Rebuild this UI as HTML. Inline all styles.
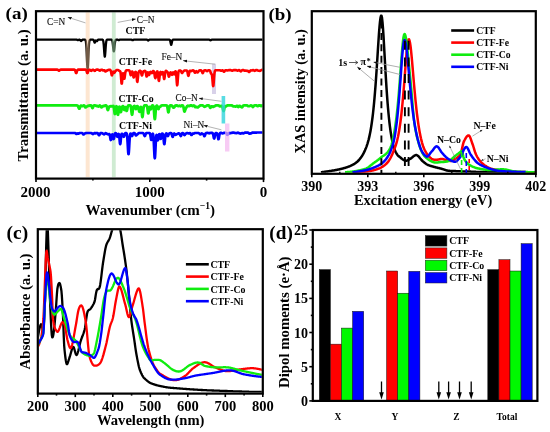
<!DOCTYPE html><html><head><meta charset="utf-8"><style>html,body{margin:0;padding:0;background:#fff;width:550px;height:432px;overflow:hidden}svg{display:block;will-change:transform}</style></head><body>
<svg width="550" height="432" viewBox="0 0 550 432" style="font-family:'Liberation Serif',serif">
<rect width="550" height="432" fill="#fff"/>
<defs><clipPath id="ca"><rect x="37" y="12.2" width="225.5" height="165.4"/></clipPath><clipPath id="cb"><rect x="312.8" y="12.2" width="222" height="160.6"/></clipPath><clipPath id="cc"><rect x="38.8" y="230.2" width="223" height="162.4"/></clipPath><marker id="ah" viewBox="0 0 6 6" refX="5" refY="3" markerWidth="5" markerHeight="5" orient="auto"><path d="M0,0.8 L6,3 L0,5.2 z" fill="#222"/></marker><marker id="ah2" viewBox="0 0 8 6" refX="7" refY="3" markerWidth="4.2" markerHeight="3.2" markerUnits="userSpaceOnUse" orient="auto"><path d="M0,0.3 L8,3 L0,5.7 z" fill="#111"/></marker></defs>
<path d="M37.0,39.6 L37.2,39.6 L37.4,39.6 L37.6,39.6 L37.8,39.6 L38.0,39.6 L38.2,39.6 L38.4,39.6 L38.6,39.6 L38.8,39.6 L39.0,39.6 L39.2,39.6 L39.4,39.6 L39.6,39.6 L39.8,39.6 L40.0,39.6 L40.2,39.6 L40.4,39.6 L40.6,39.6 L40.8,39.6 L41.0,39.6 L41.2,39.6 L41.4,39.6 L41.6,39.6 L41.8,39.6 L42.0,39.6 L42.2,39.6 L42.4,39.6 L42.6,39.6 L42.8,39.6 L43.0,39.6 L43.2,39.6 L43.4,39.6 L43.6,39.6 L43.8,39.6 L44.0,39.6 L44.2,39.6 L44.4,39.6 L44.6,39.6 L44.8,39.6 L45.0,39.6 L45.2,39.6 L45.4,39.6 L45.6,39.6 L45.8,39.6 L46.0,39.6 L46.2,39.6 L46.4,39.6 L46.6,39.6 L46.8,39.6 L47.0,39.6 L47.2,39.6 L47.4,39.6 L47.6,39.6 L47.8,39.6 L48.0,39.6 L48.2,39.6 L48.4,39.6 L48.6,39.6 L48.8,39.6 L49.0,39.6 L49.2,39.6 L49.4,39.6 L49.6,39.6 L49.8,39.6 L50.0,39.6 L50.2,39.6 L50.4,39.6 L50.6,39.6 L50.8,39.6 L51.0,39.6 L51.2,39.6 L51.4,39.6 L51.6,39.6 L51.8,39.6 L52.0,39.6 L52.2,39.6 L52.4,39.6 L52.6,39.6 L52.8,39.6 L53.0,39.6 L53.2,39.6 L53.4,39.6 L53.6,39.6 L53.8,39.6 L54.0,39.6 L54.2,39.6 L54.4,39.6 L54.6,39.6 L54.8,39.6 L55.0,39.6 L55.2,39.6 L55.4,39.6 L55.6,39.6 L55.8,39.6 L56.0,39.6 L56.2,39.6 L56.4,39.6 L56.6,39.6 L56.8,39.6 L57.0,39.6 L57.2,39.6 L57.4,39.6 L57.6,39.6 L57.8,39.6 L58.0,39.6 L58.2,39.6 L58.4,39.6 L58.6,39.6 L58.8,39.6 L59.0,39.6 L59.2,39.6 L59.4,39.6 L59.6,39.6 L59.8,39.6 L60.0,39.6 L60.2,39.6 L60.4,39.6 L60.6,39.6 L60.8,39.6 L61.0,39.6 L61.2,39.6 L61.4,39.6 L61.6,39.6 L61.8,39.6 L62.0,39.6 L62.2,39.6 L62.4,39.6 L62.6,39.6 L62.8,39.6 L63.0,39.6 L63.2,39.6 L63.4,39.6 L63.6,39.6 L63.8,39.6 L64.0,39.6 L64.2,39.6 L64.4,39.6 L64.6,39.6 L64.8,39.6 L65.0,39.6 L65.2,39.6 L65.4,39.6 L65.6,39.6 L65.8,39.6 L66.0,39.6 L66.2,39.6 L66.4,39.6 L66.6,39.6 L66.8,39.6 L67.0,39.6 L67.2,39.6 L67.4,39.6 L67.6,39.6 L67.8,39.6 L68.0,39.6 L68.2,39.6 L68.4,39.6 L68.6,39.6 L68.8,39.6 L69.0,39.6 L69.2,39.6 L69.4,39.6 L69.6,39.6 L69.8,39.6 L70.0,39.6 L70.2,39.6 L70.4,39.6 L70.6,39.6 L70.8,39.6 L71.0,39.6 L71.2,39.6 L71.4,39.6 L71.6,39.6 L71.8,39.6 L72.0,39.6 L72.2,39.6 L72.4,39.6 L72.6,39.6 L72.8,39.6 L73.0,39.6 L73.2,39.6 L73.4,39.6 L73.6,39.6 L73.8,39.6 L74.0,39.6 L74.2,39.6 L74.4,39.6 L74.6,39.6 L74.8,39.6 L75.0,39.6 L75.2,39.6 L75.4,39.6 L75.6,39.6 L75.8,39.6 L76.0,39.6 L76.2,39.6 L76.4,39.6 L76.6,39.6 L76.8,39.7 L77.0,39.8 L77.2,39.9 L77.4,40.0 L77.6,40.0 L77.8,40.1 L78.0,40.1 L78.2,40.0 L78.4,40.0 L78.6,39.9 L78.8,39.8 L79.0,39.7 L79.2,39.7 L79.4,39.6 L79.6,39.7 L79.8,39.7 L80.0,39.9 L80.2,40.1 L80.4,40.3 L80.6,40.6 L80.8,40.8 L81.0,41.0 L81.2,41.0 L81.4,40.8 L81.6,40.6 L81.8,40.3 L82.0,40.1 L82.2,39.9 L82.4,39.7 L82.6,39.7 L82.8,39.6 L83.0,39.6 L83.2,39.6 L83.4,39.6 L83.6,39.6 L83.8,39.6 L84.0,39.6 L84.2,39.6 L84.4,39.6 L84.6,39.6 L84.8,39.6 L85.0,39.7 L85.2,39.8 L85.4,40.0 L85.6,40.4 L85.8,41.2 L86.0,42.6 L86.2,44.7 L86.4,47.7 L86.6,51.6 L86.8,56.1 L87.0,60.8 L87.2,64.9 L87.4,67.8 L87.6,68.8 L87.8,67.8 L88.0,64.9 L88.2,60.8 L88.4,56.1 L88.6,51.6 L88.8,47.7 L89.0,44.7 L89.2,42.6 L89.4,41.2 L89.6,40.4 L89.8,40.0 L90.0,39.8 L90.2,39.7 L90.4,39.6 L90.6,39.6 L90.8,39.6 L91.0,39.6 L91.2,39.6 L91.4,39.6 L91.6,39.6 L91.8,39.6 L92.0,39.6 L92.2,39.6 L92.4,39.6 L92.6,39.6 L92.8,39.6 L93.0,39.7 L93.2,39.7 L93.4,39.9 L93.6,40.1 L93.8,40.5 L94.0,41.1 L94.2,41.6 L94.4,42.2 L94.6,42.5 L94.8,42.5 L95.0,42.2 L95.2,41.7 L95.4,41.2 L95.6,40.8 L95.8,40.5 L96.0,40.5 L96.2,40.7 L96.4,40.9 L96.6,41.1 L96.8,41.2 L97.0,41.1 L97.2,40.9 L97.4,40.6 L97.6,40.3 L97.8,40.0 L98.0,39.8 L98.2,39.7 L98.4,39.6 L98.6,39.6 L98.8,39.6 L99.0,39.6 L99.2,39.6 L99.4,39.6 L99.6,39.6 L99.8,39.6 L100.0,39.6 L100.2,39.6 L100.4,39.6 L100.6,39.6 L100.8,39.6 L101.0,39.6 L101.2,39.6 L101.4,39.6 L101.6,39.6 L101.8,39.6 L102.0,39.6 L102.2,39.6 L102.4,39.6 L102.6,39.7 L102.8,39.9 L103.0,40.2 L103.2,40.8 L103.4,41.9 L103.6,43.5 L103.8,45.7 L104.0,48.4 L104.2,51.4 L104.4,54.0 L104.6,55.9 L104.8,56.6 L105.0,55.9 L105.2,54.0 L105.4,51.4 L105.6,48.4 L105.8,45.7 L106.0,43.5 L106.2,41.9 L106.4,40.8 L106.6,40.2 L106.8,39.9 L107.0,39.7 L107.2,39.6 L107.4,39.6 L107.6,39.6 L107.8,39.6 L108.0,39.6 L108.2,39.6 L108.4,39.6 L108.6,39.6 L108.8,39.6 L109.0,39.6 L109.2,39.6 L109.4,39.6 L109.6,39.6 L109.8,39.6 L110.0,39.6 L110.2,39.6 L110.4,39.6 L110.6,39.6 L110.8,39.6 L111.0,39.6 L111.2,39.6 L111.4,39.6 L111.6,39.7 L111.8,39.8 L112.0,40.0 L112.2,40.5 L112.4,41.2 L112.6,42.3 L112.8,43.9 L113.0,45.7 L113.2,47.8 L113.4,49.6 L113.6,50.9 L113.8,51.4 L114.0,50.9 L114.2,49.6 L114.4,47.8 L114.6,45.7 L114.8,43.9 L115.0,42.3 L115.2,41.2 L115.4,40.5 L115.6,40.0 L115.8,39.8 L116.0,39.7 L116.2,39.6 L116.4,39.6 L116.6,39.6 L116.8,39.6 L117.0,39.6 L117.2,39.6 L117.4,39.6 L117.6,39.7 L117.8,39.8 L118.0,39.9 L118.2,40.0 L118.4,40.0 L118.6,40.1 L118.8,40.1 L119.0,40.0 L119.2,40.0 L119.4,39.9 L119.6,39.8 L119.8,39.7 L120.0,39.6 L120.2,39.6 L120.4,39.6 L120.6,39.6 L120.8,39.6 L121.0,39.6 L121.2,39.6 L121.4,39.6 L121.6,39.6 L121.8,39.6 L122.0,39.6 L122.2,39.6 L122.4,39.6 L122.6,39.6 L122.8,39.6 L123.0,39.6 L123.2,39.6 L123.4,39.6 L123.6,39.6 L123.8,39.6 L124.0,39.6 L124.2,39.6 L124.4,39.6 L124.6,39.6 L124.8,39.6 L125.0,39.6 L125.2,39.6 L125.4,39.6 L125.6,39.6 L125.8,39.6 L126.0,39.6 L126.2,39.6 L126.4,39.6 L126.6,39.6 L126.8,39.6 L127.0,39.6 L127.2,39.6 L127.4,39.6 L127.6,39.6 L127.8,39.6 L128.0,39.6 L128.2,39.6 L128.4,39.6 L128.6,39.6 L128.8,39.6 L129.0,39.6 L129.2,39.6 L129.4,39.6 L129.6,39.6 L129.8,39.6 L130.0,39.6 L130.2,39.6 L130.4,39.6 L130.6,39.6 L130.8,39.6 L131.0,39.6 L131.2,39.6 L131.4,39.7 L131.6,39.7 L131.8,39.8 L132.0,40.0 L132.2,40.1 L132.4,40.2 L132.6,40.2 L132.8,40.2 L133.0,40.1 L133.2,40.0 L133.4,39.8 L133.6,39.7 L133.8,39.7 L134.0,39.6 L134.2,39.6 L134.4,39.6 L134.6,39.6 L134.8,39.6 L135.0,39.6 L135.2,39.6 L135.4,39.6 L135.6,39.6 L135.8,39.6 L136.0,39.6 L136.2,39.6 L136.4,39.6 L136.6,39.6 L136.8,39.6 L137.0,39.6 L137.2,39.6 L137.4,39.6 L137.6,39.6 L137.8,39.6 L138.0,39.6 L138.2,39.6 L138.4,39.6 L138.6,39.6 L138.8,39.6 L139.0,39.6 L139.2,39.6 L139.4,39.6 L139.6,39.6 L139.8,39.6 L140.0,39.6 L140.2,39.6 L140.4,39.6 L140.6,39.6 L140.8,39.6 L141.0,39.6 L141.2,39.6 L141.4,39.6 L141.6,39.6 L141.8,39.6 L142.0,39.6 L142.2,39.6 L142.4,39.6 L142.6,39.6 L142.8,39.6 L143.0,39.6 L143.2,39.6 L143.4,39.6 L143.6,39.6 L143.8,39.6 L144.0,39.6 L144.2,39.6 L144.4,39.6 L144.6,39.6 L144.8,39.6 L145.0,39.6 L145.2,39.6 L145.4,39.6 L145.6,39.6 L145.8,39.6 L146.0,39.6 L146.2,39.6 L146.4,39.6 L146.6,39.6 L146.8,39.7 L147.0,39.7 L147.2,39.8 L147.4,40.0 L147.6,40.1 L147.8,40.3 L148.0,40.5 L148.2,40.5 L148.4,40.5 L148.6,40.3 L148.8,40.1 L149.0,40.0 L149.2,39.8 L149.4,39.7 L149.6,39.7 L149.8,39.6 L150.0,39.6 L150.2,39.6 L150.4,39.6 L150.6,39.6 L150.8,39.6 L151.0,39.6 L151.2,39.6 L151.4,39.6 L151.6,39.6 L151.8,39.6 L152.0,39.6 L152.2,39.6 L152.4,39.6 L152.6,39.6 L152.8,39.6 L153.0,39.6 L153.2,39.6 L153.4,39.6 L153.6,39.6 L153.8,39.6 L154.0,39.6 L154.2,39.6 L154.4,39.6 L154.6,39.6 L154.8,39.6 L155.0,39.6 L155.2,39.6 L155.4,39.6 L155.6,39.6 L155.8,39.6 L156.0,39.6 L156.2,39.6 L156.4,39.6 L156.6,39.6 L156.8,39.6 L157.0,39.6 L157.2,39.6 L157.4,39.6 L157.6,39.6 L157.8,39.6 L158.0,39.6 L158.2,39.6 L158.4,39.6 L158.6,39.6 L158.8,39.6 L159.0,39.6 L159.2,39.6 L159.4,39.6 L159.6,39.6 L159.8,39.6 L160.0,39.6 L160.2,39.6 L160.4,39.6 L160.6,39.6 L160.8,39.6 L161.0,39.6 L161.2,39.6 L161.4,39.6 L161.6,39.6 L161.8,39.6 L162.0,39.6 L162.2,39.6 L162.4,39.6 L162.6,39.6 L162.8,39.6 L163.0,39.6 L163.2,39.6 L163.4,39.6 L163.6,39.6 L163.8,39.6 L164.0,39.6 L164.2,39.6 L164.4,39.6 L164.6,39.6 L164.8,39.6 L165.0,39.6 L165.2,39.6 L165.4,39.6 L165.6,39.6 L165.8,39.6 L166.0,39.6 L166.2,39.6 L166.4,39.6 L166.6,39.6 L166.8,39.6 L167.0,39.6 L167.2,39.6 L167.4,39.6 L167.6,39.6 L167.8,39.6 L168.0,39.6 L168.2,39.6 L168.4,39.6 L168.6,39.6 L168.8,39.6 L169.0,39.6 L169.2,39.6 L169.4,39.7 L169.6,39.7 L169.8,39.9 L170.0,40.3 L170.2,40.9 L170.4,41.7 L170.6,42.8 L170.8,43.8 L171.0,44.5 L171.2,44.8 L171.4,44.5 L171.6,43.8 L171.8,42.8 L172.0,41.7 L172.2,40.9 L172.4,40.3 L172.6,39.9 L172.8,39.7 L173.0,39.7 L173.2,39.6 L173.4,39.6 L173.6,39.6 L173.8,39.6 L174.0,39.6 L174.2,39.6 L174.4,39.6 L174.6,39.6 L174.8,39.6 L175.0,39.6 L175.2,39.6 L175.4,39.6 L175.6,39.6 L175.8,39.6 L176.0,39.6 L176.2,39.6 L176.4,39.6 L176.6,39.6 L176.8,39.6 L177.0,39.6 L177.2,39.6 L177.4,39.6 L177.6,39.6 L177.8,39.6 L178.0,39.6 L178.2,39.6 L178.4,39.6 L178.6,39.6 L178.8,39.6 L179.0,39.6 L179.2,39.6 L179.4,39.6 L179.6,39.6 L179.8,39.6 L180.0,39.6 L180.2,39.6 L180.4,39.6 L180.6,39.6 L180.8,39.6 L181.0,39.6 L181.2,39.6 L181.4,39.6 L181.6,39.6 L181.8,39.6 L182.0,39.6 L182.2,39.6 L182.4,39.6 L182.6,39.6 L182.8,39.6 L183.0,39.6 L183.2,39.6 L183.4,39.6 L183.6,39.6 L183.8,39.6 L184.0,39.6 L184.2,39.6 L184.4,39.6 L184.6,39.6 L184.8,39.6 L185.0,39.6 L185.2,39.6 L185.4,39.6 L185.6,39.6 L185.8,39.6 L186.0,39.6 L186.2,39.6 L186.4,39.6 L186.6,39.6 L186.8,39.6 L187.0,39.6 L187.2,39.6 L187.4,39.6 L187.6,39.6 L187.8,39.6 L188.0,39.6 L188.2,39.6 L188.4,39.6 L188.6,39.6 L188.8,39.6 L189.0,39.6 L189.2,39.6 L189.4,39.6 L189.6,39.6 L189.8,39.6 L190.0,39.6 L190.2,39.6 L190.4,39.6 L190.6,39.6 L190.8,39.6 L191.0,39.6 L191.2,39.6 L191.4,39.6 L191.6,39.6 L191.8,39.6 L192.0,39.6 L192.2,39.6 L192.4,39.6 L192.6,39.6 L192.8,39.6 L193.0,39.6 L193.2,39.6 L193.4,39.6 L193.6,39.6 L193.8,39.6 L194.0,39.6 L194.2,39.6 L194.4,39.6 L194.6,39.6 L194.8,39.6 L195.0,39.6 L195.2,39.6 L195.4,39.6 L195.6,39.6 L195.8,39.6 L196.0,39.6 L196.2,39.6 L196.4,39.6 L196.6,39.6 L196.8,39.6 L197.0,39.6 L197.2,39.6 L197.4,39.6 L197.6,39.6 L197.8,39.6 L198.0,39.6 L198.2,39.6 L198.4,39.6 L198.6,39.6 L198.8,39.6 L199.0,39.6 L199.2,39.6 L199.4,39.6 L199.6,39.6 L199.8,39.6 L200.0,39.6 L200.2,39.6 L200.4,39.6 L200.6,39.6 L200.8,39.6 L201.0,39.6 L201.2,39.6 L201.4,39.6 L201.6,39.6 L201.8,39.6 L202.0,39.6 L202.2,39.6 L202.4,39.6 L202.6,39.6 L202.8,39.6 L203.0,39.6 L203.2,39.6 L203.4,39.6 L203.6,39.6 L203.8,39.6 L204.0,39.6 L204.2,39.6 L204.4,39.6 L204.6,39.6 L204.8,39.6 L205.0,39.6 L205.2,39.6 L205.4,39.6 L205.6,39.6 L205.8,39.6 L206.0,39.6 L206.2,39.6 L206.4,39.6 L206.6,39.6 L206.8,39.6 L207.0,39.6 L207.2,39.6 L207.4,39.6 L207.6,39.6 L207.8,39.6 L208.0,39.6 L208.2,39.6 L208.4,39.6 L208.6,39.6 L208.8,39.6 L209.0,39.6 L209.2,39.7 L209.4,39.7 L209.6,39.8 L209.8,40.0 L210.0,40.1 L210.2,40.2 L210.4,40.3 L210.6,40.3 L210.8,40.2 L211.0,40.1 L211.2,40.0 L211.4,39.8 L211.6,39.7 L211.8,39.7 L212.0,39.6 L212.2,39.6 L212.4,39.6 L212.6,39.6 L212.8,39.6 L213.0,39.6 L213.2,39.6 L213.4,39.6 L213.6,39.6 L213.8,39.6 L214.0,39.6 L214.2,39.6 L214.4,39.6 L214.6,39.6 L214.8,39.6 L215.0,39.6 L215.2,39.6 L215.4,39.6 L215.6,39.6 L215.8,39.6 L216.0,39.6 L216.2,39.6 L216.4,39.6 L216.6,39.6 L216.8,39.6 L217.0,39.6 L217.2,39.6 L217.4,39.6 L217.6,39.6 L217.8,39.6 L218.0,39.6 L218.2,39.6 L218.4,39.6 L218.6,39.6 L218.8,39.6 L219.0,39.6 L219.2,39.6 L219.4,39.6 L219.6,39.6 L219.8,39.6 L220.0,39.6 L220.2,39.6 L220.4,39.6 L220.6,39.6 L220.8,39.6 L221.0,39.6 L221.2,39.6 L221.4,39.6 L221.6,39.6 L221.8,39.6 L222.0,39.6 L222.2,39.6 L222.4,39.6 L222.6,39.6 L222.8,39.6 L223.0,39.6 L223.2,39.6 L223.4,39.6 L223.6,39.6 L223.8,39.6 L224.0,39.6 L224.2,39.6 L224.4,39.6 L224.6,39.6 L224.8,39.6 L225.0,39.6 L225.2,39.6 L225.4,39.6 L225.6,39.6 L225.8,39.6 L226.0,39.6 L226.2,39.6 L226.4,39.6 L226.6,39.6 L226.8,39.6 L227.0,39.6 L227.2,39.6 L227.4,39.6 L227.6,39.6 L227.8,39.6 L228.0,39.6 L228.2,39.6 L228.4,39.6 L228.6,39.6 L228.8,39.6 L229.0,39.6 L229.2,39.6 L229.4,39.6 L229.6,39.6 L229.8,39.6 L230.0,39.6 L230.2,39.6 L230.4,39.6 L230.6,39.6 L230.8,39.6 L231.0,39.6 L231.2,39.6 L231.4,39.6 L231.6,39.6 L231.8,39.6 L232.0,39.6 L232.2,39.6 L232.4,39.6 L232.6,39.6 L232.8,39.6 L233.0,39.6 L233.2,39.6 L233.4,39.6 L233.6,39.6 L233.8,39.6 L234.0,39.6 L234.2,39.6 L234.4,39.6 L234.6,39.6 L234.8,39.6 L235.0,39.6 L235.2,39.6 L235.4,39.6 L235.6,39.6 L235.8,39.6 L236.0,39.6 L236.2,39.6 L236.4,39.6 L236.6,39.6 L236.8,39.6 L237.0,39.6 L237.2,39.6 L237.4,39.6 L237.6,39.6 L237.8,39.6 L238.0,39.6 L238.2,39.6 L238.4,39.6 L238.6,39.6 L238.8,39.6 L239.0,39.6 L239.2,39.6 L239.4,39.6 L239.6,39.6 L239.8,39.6 L240.0,39.6 L240.2,39.6 L240.4,39.6 L240.6,39.6 L240.8,39.6 L241.0,39.6 L241.2,39.6 L241.4,39.6 L241.6,39.6 L241.8,39.6 L242.0,39.6 L242.2,39.6 L242.4,39.6 L242.6,39.6 L242.8,39.6 L243.0,39.6 L243.2,39.6 L243.4,39.6 L243.6,39.6 L243.8,39.6 L244.0,39.6 L244.2,39.6 L244.4,39.6 L244.6,39.6 L244.8,39.6 L245.0,39.6 L245.2,39.6 L245.4,39.6 L245.6,39.6 L245.8,39.6 L246.0,39.6 L246.2,39.6 L246.4,39.6 L246.6,39.6 L246.8,39.6 L247.0,39.6 L247.2,39.6 L247.4,39.6 L247.6,39.6 L247.8,39.6 L248.0,39.6 L248.2,39.6 L248.4,39.6 L248.6,39.6 L248.8,39.6 L249.0,39.6 L249.2,39.6 L249.4,39.6 L249.6,39.6 L249.8,39.6 L250.0,39.6 L250.2,39.6 L250.4,39.6 L250.6,39.6 L250.8,39.6 L251.0,39.6 L251.2,39.6 L251.4,39.6 L251.6,39.6 L251.8,39.6 L252.0,39.6 L252.2,39.6 L252.4,39.6 L252.6,39.6 L252.8,39.6 L253.0,39.6 L253.2,39.6 L253.4,39.6 L253.6,39.6 L253.8,39.6 L254.0,39.6 L254.2,39.6 L254.4,39.6 L254.6,39.6 L254.8,39.6 L255.0,39.6 L255.2,39.6 L255.4,39.6 L255.6,39.6 L255.8,39.6 L256.0,39.6 L256.2,39.6 L256.4,39.6 L256.6,39.6 L256.8,39.6 L257.0,39.6 L257.2,39.6 L257.4,39.6 L257.6,39.6 L257.8,39.6 L258.0,39.6 L258.2,39.6 L258.4,39.6 L258.6,39.6 L258.8,39.6 L259.0,39.6 L259.2,39.6 L259.4,39.6 L259.6,39.6 L259.8,39.6 L260.0,39.6 L260.2,39.6 L260.4,39.6 L260.6,39.6 L260.8,39.6 L261.0,39.6 L261.2,39.6 L261.4,39.6 L261.6,39.6 L261.8,39.6 L262.0,39.6 L262.2,39.6 L262.4,39.6 L262.6,39.6 L262.8,39.6" fill="none" stroke="#000" stroke-width="2.3" stroke-linejoin="round" clip-path="url(#ca)"/>
<rect x="85.7" y="12.3" width="4" height="164.8" fill="#fbc89a" opacity="0.45"/>
<rect x="111.9" y="12.3" width="3.8" height="164.8" fill="#9fd8a6" opacity="0.5"/>
<rect x="212" y="63.7" width="4" height="30.3" fill="#c8bde0" opacity="0.7"/>
<g clip-path="url(#ca)">
<path d="M37.0,69.6 L37.2,69.6 L37.4,69.6 L37.6,69.6 L37.8,69.6 L38.0,69.6 L38.2,69.6 L38.4,69.6 L38.6,69.6 L38.8,69.6 L39.0,69.6 L39.2,69.6 L39.4,69.6 L39.6,69.6 L39.8,69.6 L40.0,69.6 L40.2,69.6 L40.4,69.6 L40.6,69.6 L40.8,69.6 L41.0,69.6 L41.2,69.6 L41.4,69.6 L41.6,69.6 L41.8,69.6 L42.0,69.6 L42.2,69.6 L42.4,69.6 L42.6,69.6 L42.8,69.6 L43.0,69.6 L43.2,69.6 L43.4,69.6 L43.6,69.6 L43.8,69.6 L44.0,69.6 L44.2,69.6 L44.4,69.6 L44.6,69.6 L44.8,69.6 L45.0,69.6 L45.2,69.6 L45.4,69.6 L45.6,69.6 L45.8,69.6 L46.0,69.6 L46.2,69.6 L46.4,69.6 L46.6,69.6 L46.8,69.6 L47.0,69.6 L47.2,69.6 L47.4,69.6 L47.6,69.6 L47.8,69.6 L48.0,69.6 L48.2,69.6 L48.4,69.6 L48.6,69.6 L48.8,69.6 L49.0,69.6 L49.2,69.6 L49.4,69.6 L49.6,69.6 L49.8,69.6 L50.0,69.6 L50.2,69.6 L50.4,69.6 L50.6,69.6 L50.8,69.6 L51.0,69.6 L51.2,69.6 L51.4,69.6 L51.6,69.6 L51.8,69.6 L52.0,69.6 L52.2,69.6 L52.4,69.6 L52.6,69.6 L52.8,69.6 L53.0,69.6 L53.2,69.6 L53.4,69.6 L53.6,69.6 L53.8,69.6 L54.0,69.6 L54.2,69.6 L54.4,69.6 L54.6,69.6 L54.8,69.6 L55.0,69.6 L55.2,69.6 L55.4,69.6 L55.6,69.6 L55.8,69.6 L56.0,69.6 L56.2,69.6 L56.4,69.6 L56.6,69.6 L56.8,69.6 L57.0,69.6 L57.2,69.6 L57.4,69.6 L57.6,69.7 L57.8,69.8 L58.0,69.9 L58.2,70.1 L58.4,70.3 L58.6,70.6 L58.8,70.7 L59.0,70.8 L59.2,70.7 L59.4,70.6 L59.6,70.3 L59.8,70.1 L60.0,69.9 L60.2,69.8 L60.4,69.7 L60.6,69.6 L60.8,69.6 L61.0,69.6 L61.2,69.6 L61.4,69.6 L61.6,69.6 L61.8,69.6 L62.0,69.6 L62.2,69.6 L62.4,69.6 L62.6,69.6 L62.8,69.6 L63.0,69.6 L63.2,69.6 L63.4,69.6 L63.6,69.6 L63.8,69.6 L64.0,69.6 L64.2,69.6 L64.4,69.6 L64.6,69.6 L64.8,69.6 L65.0,69.6 L65.2,69.6 L65.4,69.6 L65.6,69.6 L65.8,69.6 L66.0,69.6 L66.2,69.6 L66.4,69.6 L66.6,69.6 L66.8,69.6 L67.0,69.6 L67.2,69.6 L67.4,69.6 L67.6,69.6 L67.8,69.6 L68.0,69.6 L68.2,69.6 L68.4,69.6 L68.6,69.6 L68.8,69.6 L69.0,69.6 L69.2,69.6 L69.4,69.6 L69.6,69.6 L69.8,69.6 L70.0,69.6 L70.2,69.6 L70.4,69.6 L70.6,69.6 L70.8,69.6 L71.0,69.6 L71.2,69.6 L71.4,69.6 L71.6,69.6 L71.8,69.6 L72.0,69.6 L72.2,69.6 L72.4,69.6 L72.6,69.6 L72.8,69.6 L73.0,69.6 L73.2,69.6 L73.4,69.6 L73.6,69.6 L73.8,69.6 L74.0,69.6 L74.2,69.6 L74.4,69.6 L74.6,69.7 L74.8,69.8 L75.0,70.1 L75.2,70.5 L75.4,71.1 L75.6,71.8 L75.8,72.5 L76.0,73.0 L76.2,73.2 L76.4,73.0 L76.6,72.5 L76.8,71.8 L77.0,71.1 L77.2,70.5 L77.4,70.1 L77.6,69.8 L77.8,69.7 L78.0,69.6 L78.2,69.6 L78.4,69.6 L78.6,69.6 L78.8,69.6 L79.0,69.6 L79.2,69.6 L79.4,69.6 L79.6,69.6 L79.8,69.6 L80.0,69.6 L80.2,69.6 L80.4,69.6 L80.6,69.6 L80.8,69.6 L81.0,69.6 L81.2,69.6 L81.4,69.6 L81.6,69.6 L81.8,69.6 L82.0,69.6 L82.2,69.6 L82.4,69.6 L82.6,69.6 L82.8,69.6 L83.0,69.6 L83.2,69.6 L83.4,69.6 L83.6,69.6 L83.8,69.6 L84.0,69.6 L84.2,69.6 L84.4,69.6 L84.6,69.6 L84.8,69.6 L85.0,69.6 L85.2,69.6 L85.4,69.6 L85.6,69.6 L85.8,69.7 L86.0,69.8 L86.2,70.1 L86.4,70.5 L86.6,71.1 L86.8,71.8 L87.0,72.5 L87.2,73.0 L87.4,73.2 L87.6,73.0 L87.8,72.5 L88.0,71.8 L88.2,71.1 L88.4,70.5 L88.6,70.1 L88.8,69.8 L89.0,69.7 L89.2,69.7 L89.4,69.7 L89.6,69.7 L89.8,69.8 L90.0,69.9 L90.2,70.1 L90.4,70.3 L90.6,70.5 L90.8,70.7 L91.0,70.8 L91.2,70.9 L91.4,70.8 L91.6,70.6 L91.8,70.4 L92.0,70.2 L92.2,70.0 L92.4,69.9 L92.6,69.8 L92.8,69.7 L93.0,69.7 L93.2,69.7 L93.4,69.8 L93.6,70.0 L93.8,70.2 L94.0,70.4 L94.2,70.6 L94.4,70.7 L94.6,70.8 L94.8,70.9 L95.0,70.8 L95.2,70.6 L95.4,70.4 L95.6,70.2 L95.8,70.0 L96.0,69.8 L96.2,69.7 L96.4,69.7 L96.6,69.6 L96.8,69.6 L97.0,69.6 L97.2,69.6 L97.4,69.6 L97.6,69.6 L97.8,69.6 L98.0,69.7 L98.2,69.7 L98.4,69.8 L98.6,69.9 L98.8,70.0 L99.0,70.2 L99.2,70.4 L99.4,70.5 L99.6,70.7 L99.8,70.7 L100.0,70.7 L100.2,70.6 L100.4,70.4 L100.6,70.2 L100.8,70.0 L101.0,69.9 L101.2,69.8 L101.4,69.7 L101.6,69.7 L101.8,69.7 L102.0,69.7 L102.2,69.8 L102.4,69.9 L102.6,70.1 L102.8,70.3 L103.0,70.4 L103.2,70.5 L103.4,70.5 L103.6,70.5 L103.8,70.4 L104.0,70.3 L104.2,70.2 L104.4,70.3 L104.6,70.5 L104.8,70.8 L105.0,71.2 L105.2,71.4 L105.4,71.5 L105.6,71.5 L105.8,71.3 L106.0,71.0 L106.2,70.7 L106.4,70.6 L106.6,70.6 L106.8,70.6 L107.0,70.6 L107.2,70.6 L107.4,70.5 L107.6,70.4 L107.8,70.2 L108.0,70.1 L108.2,70.0 L108.4,69.9 L108.6,69.8 L108.8,69.8 L109.0,69.8 L109.2,69.8 L109.4,69.8 L109.6,69.8 L109.8,69.8 L110.0,69.9 L110.2,69.9 L110.4,70.1 L110.6,70.4 L110.8,70.9 L111.0,71.6 L111.2,72.6 L111.4,73.7 L111.6,74.7 L111.8,75.2 L112.0,75.3 L112.2,74.8 L112.4,73.9 L112.6,73.0 L112.8,72.3 L113.0,71.8 L113.2,71.6 L113.4,71.7 L113.6,72.0 L113.8,72.4 L114.0,72.6 L114.2,72.8 L114.4,72.7 L114.6,72.5 L114.8,72.2 L115.0,71.8 L115.2,71.5 L115.4,71.2 L115.6,71.0 L115.8,70.7 L116.0,70.5 L116.2,70.3 L116.4,70.2 L116.6,70.1 L116.8,70.0 L117.0,70.0 L117.2,70.0 L117.4,70.0 L117.6,70.0 L117.8,70.0 L118.0,70.1 L118.2,70.1 L118.4,70.2 L118.6,70.3 L118.8,70.4 L119.0,70.6 L119.2,70.8 L119.4,70.9 L119.6,71.0 L119.8,71.1 L120.0,71.1 L120.2,71.3 L120.4,71.8 L120.6,72.8 L120.8,74.5 L121.0,76.9 L121.2,79.6 L121.4,82.0 L121.6,83.5 L121.8,83.7 L122.0,82.5 L122.2,80.3 L122.4,77.9 L122.6,75.6 L122.8,74.0 L123.0,73.2 L123.2,73.3 L123.4,74.0 L123.6,75.2 L123.8,76.7 L124.0,78.0 L124.2,78.7 L124.4,78.7 L124.6,77.8 L124.8,76.4 L125.0,74.8 L125.2,73.3 L125.4,72.2 L125.6,71.4 L125.8,70.9 L126.0,70.6 L126.2,70.4 L126.4,70.3 L126.6,70.3 L126.8,70.3 L127.0,70.3 L127.2,70.3 L127.4,70.3 L127.6,70.3 L127.8,70.3 L128.0,70.3 L128.2,70.3 L128.4,70.3 L128.6,70.3 L128.8,70.3 L129.0,70.3 L129.2,70.4 L129.4,70.6 L129.6,71.0 L129.8,71.5 L130.0,72.3 L130.2,73.2 L130.4,74.2 L130.6,74.9 L130.8,75.2 L131.0,75.0 L131.2,74.3 L131.4,73.5 L131.6,72.7 L131.8,72.0 L132.0,71.6 L132.2,71.5 L132.4,71.6 L132.6,72.0 L132.8,72.8 L133.0,74.0 L133.2,75.3 L133.4,76.5 L133.6,77.4 L133.8,77.5 L134.0,77.0 L134.2,76.0 L134.4,74.8 L134.6,73.7 L134.8,72.9 L135.0,72.4 L135.2,72.1 L135.4,71.9 L135.6,71.8 L135.8,71.9 L136.0,72.2 L136.2,73.0 L136.4,74.4 L136.6,76.3 L136.8,78.5 L137.0,80.5 L137.2,81.7 L137.4,81.8 L137.6,80.7 L137.8,78.8 L138.0,76.8 L138.2,74.9 L138.4,73.5 L138.6,72.5 L138.8,71.9 L139.0,71.5 L139.2,71.2 L139.4,71.0 L139.6,70.8 L139.8,70.7 L140.0,70.7 L140.2,70.7 L140.4,70.8 L140.6,71.0 L140.8,71.5 L141.0,72.1 L141.2,73.0 L141.4,73.9 L141.6,74.8 L141.8,75.4 L142.0,75.5 L142.2,75.1 L142.4,74.3 L142.6,73.4 L142.8,72.6 L143.0,71.9 L143.2,71.6 L143.4,71.4 L143.6,71.3 L143.8,71.2 L144.0,71.2 L144.2,71.1 L144.4,71.0 L144.6,70.9 L144.8,70.8 L145.0,70.8 L145.2,71.0 L145.4,71.3 L145.6,71.8 L145.8,72.6 L146.0,73.7 L146.2,74.9 L146.4,75.9 L146.6,76.5 L146.8,76.5 L147.0,76.0 L147.2,74.9 L147.4,73.8 L147.6,72.9 L147.8,72.4 L148.0,72.4 L148.2,72.7 L148.4,73.4 L148.6,74.2 L148.8,74.8 L149.0,75.0 L149.2,74.9 L149.4,74.3 L149.6,73.6 L149.8,72.9 L150.0,72.4 L150.2,72.0 L150.4,71.8 L150.6,71.8 L150.8,71.9 L151.0,72.1 L151.2,72.5 L151.4,72.8 L151.6,73.1 L151.8,73.2 L152.0,73.1 L152.2,72.7 L152.4,72.2 L152.6,71.8 L152.8,71.4 L153.0,71.1 L153.2,71.0 L153.4,71.0 L153.6,71.2 L153.8,71.4 L154.0,71.9 L154.2,72.6 L154.4,73.6 L154.6,74.8 L154.8,76.2 L155.0,77.3 L155.2,78.0 L155.4,78.1 L155.6,77.6 L155.8,76.7 L156.0,75.5 L156.2,74.3 L156.4,73.3 L156.6,72.5 L156.8,71.9 L157.0,71.5 L157.2,71.3 L157.4,71.4 L157.6,71.8 L157.8,72.6 L158.0,74.0 L158.2,75.8 L158.4,77.9 L158.6,79.7 L158.8,80.7 L159.0,80.8 L159.2,79.9 L159.4,78.2 L159.6,76.3 L159.8,74.6 L160.0,73.3 L160.2,72.4 L160.4,72.0 L160.6,71.8 L160.8,72.0 L161.0,72.4 L161.2,73.0 L161.4,73.6 L161.6,74.1 L161.8,74.3 L162.0,74.1 L162.2,73.6 L162.4,73.0 L162.6,72.4 L162.8,72.1 L163.0,72.3 L163.2,73.0 L163.4,74.2 L163.6,75.7 L163.8,77.3 L164.0,78.5 L164.2,79.0 L164.4,78.5 L164.6,77.3 L164.8,75.7 L165.0,74.1 L165.2,72.7 L165.4,71.8 L165.6,71.2 L165.8,70.9 L166.0,70.9 L166.2,70.9 L166.4,71.0 L166.6,71.2 L166.8,71.4 L167.0,71.6 L167.2,71.8 L167.4,72.0 L167.6,72.2 L167.8,72.6 L168.0,73.3 L168.2,74.1 L168.4,75.1 L168.6,76.1 L168.8,76.7 L169.0,76.7 L169.2,76.3 L169.4,75.5 L169.6,74.6 L169.8,73.8 L170.0,73.2 L170.2,72.8 L170.4,72.5 L170.6,72.4 L170.8,72.4 L171.0,72.6 L171.2,73.0 L171.4,73.6 L171.6,74.2 L171.8,74.6 L172.0,74.8 L172.2,74.6 L172.4,74.1 L172.6,73.4 L172.8,72.8 L173.0,72.4 L173.2,72.3 L173.4,72.5 L173.6,73.0 L173.8,73.6 L174.0,74.1 L174.2,74.3 L174.4,74.2 L174.6,73.7 L174.8,73.0 L175.0,72.3 L175.2,71.7 L175.4,71.3 L175.6,71.3 L175.8,71.7 L176.0,72.6 L176.2,74.3 L176.4,76.6 L176.6,79.5 L176.8,82.4 L177.0,84.6 L177.2,85.3 L177.4,84.5 L177.6,82.4 L177.8,79.5 L178.0,76.6 L178.2,74.2 L178.4,72.5 L178.6,71.5 L178.8,71.0 L179.0,70.7 L179.2,70.6 L179.4,70.5 L179.6,70.5 L179.8,70.5 L180.0,70.5 L180.2,70.5 L180.4,70.6 L180.6,70.7 L180.8,70.8 L181.0,71.1 L181.2,71.5 L181.4,72.0 L181.6,72.5 L181.8,72.8 L182.0,73.0 L182.2,73.0 L182.4,72.7 L182.6,72.4 L182.8,72.1 L183.0,71.8 L183.2,71.6 L183.4,71.3 L183.6,71.1 L183.8,71.0 L184.0,70.8 L184.2,70.7 L184.4,70.6 L184.6,70.5 L184.8,70.5 L185.0,70.5 L185.2,70.5 L185.4,70.5 L185.6,70.5 L185.8,70.5 L186.0,70.5 L186.2,70.5 L186.4,70.5 L186.6,70.5 L186.8,70.6 L187.0,70.8 L187.2,71.2 L187.4,71.8 L187.6,72.7 L187.8,73.7 L188.0,74.8 L188.2,75.6 L188.4,75.8 L188.6,75.6 L188.8,74.8 L189.0,73.7 L189.2,72.7 L189.4,71.8 L189.6,71.2 L189.8,70.8 L190.0,70.7 L190.2,70.7 L190.4,70.8 L190.6,70.9 L190.8,71.0 L191.0,71.1 L191.2,71.2 L191.4,71.1 L191.6,71.0 L191.8,70.9 L192.0,70.7 L192.2,70.6 L192.4,70.5 L192.6,70.5 L192.8,70.4 L193.0,70.4 L193.2,70.4 L193.4,70.5 L193.6,70.6 L193.8,70.7 L194.0,71.0 L194.2,71.4 L194.4,71.8 L194.6,72.3 L194.8,72.7 L195.0,72.8 L195.2,72.7 L195.4,72.3 L195.6,71.9 L195.8,71.5 L196.0,71.3 L196.2,71.2 L196.4,71.4 L196.6,71.6 L196.8,71.9 L197.0,72.2 L197.2,72.4 L197.4,72.4 L197.6,72.4 L197.8,72.3 L198.0,72.1 L198.2,71.8 L198.4,71.5 L198.6,71.2 L198.8,70.9 L199.0,70.7 L199.2,70.6 L199.4,70.5 L199.6,70.4 L199.8,70.4 L200.0,70.3 L200.2,70.3 L200.4,70.3 L200.6,70.3 L200.8,70.4 L201.0,70.4 L201.2,70.5 L201.4,70.7 L201.6,71.0 L201.8,71.3 L202.0,71.8 L202.2,72.3 L202.4,72.8 L202.6,73.0 L202.8,73.1 L203.0,72.8 L203.2,72.4 L203.4,71.8 L203.6,71.3 L203.8,70.9 L204.0,70.6 L204.2,70.5 L204.4,70.4 L204.6,70.3 L204.8,70.3 L205.0,70.3 L205.2,70.3 L205.4,70.3 L205.6,70.3 L205.8,70.4 L206.0,70.5 L206.2,70.6 L206.4,70.8 L206.6,71.0 L206.8,71.1 L207.0,71.2 L207.2,71.2 L207.4,71.1 L207.6,70.9 L207.8,70.7 L208.0,70.5 L208.2,70.4 L208.4,70.3 L208.6,70.3 L208.8,70.3 L209.0,70.3 L209.2,70.3 L209.4,70.3 L209.6,70.3 L209.8,70.5 L210.0,70.7 L210.2,71.1 L210.4,71.6 L210.6,72.3 L210.8,73.0 L211.0,73.6 L211.2,73.9 L211.4,74.0 L211.6,74.1 L211.8,74.4 L212.0,75.3 L212.2,76.8 L212.4,79.0 L212.6,81.5 L212.8,83.8 L213.0,85.5 L213.2,86.1 L213.4,85.5 L213.6,83.7 L213.8,81.2 L214.0,78.5 L214.2,75.9 L214.4,73.9 L214.6,72.4 L214.8,71.4 L215.0,70.8 L215.2,70.5 L215.4,70.3 L215.6,70.2 L215.8,70.2 L216.0,70.2 L216.2,70.2 L216.4,70.2 L216.6,70.2 L216.8,70.2 L217.0,70.2 L217.2,70.2 L217.4,70.2 L217.6,70.2 L217.8,70.2 L218.0,70.2 L218.2,70.2 L218.4,70.2 L218.6,70.2 L218.8,70.2 L219.0,70.2 L219.2,70.2 L219.4,70.2 L219.6,70.2 L219.8,70.2 L220.0,70.3 L220.2,70.4 L220.4,70.5 L220.6,70.6 L220.8,70.7 L221.0,70.8 L221.2,70.8 L221.4,70.7 L221.6,70.6 L221.8,70.5 L222.0,70.4 L222.2,70.3 L222.4,70.3 L222.6,70.3 L222.8,70.4 L223.0,70.6 L223.2,70.8 L223.4,71.2 L223.6,71.5 L223.8,71.7 L224.0,71.8 L224.2,71.7 L224.4,71.5 L224.6,71.2 L224.8,70.9 L225.0,70.6 L225.2,70.4 L225.4,70.3 L225.6,70.2 L225.8,70.2 L226.0,70.2 L226.2,70.2 L226.4,70.2 L226.6,70.3 L226.8,70.4 L227.0,70.5 L227.2,70.5 L227.4,70.5 L227.6,70.5 L227.8,70.4 L228.0,70.4 L228.2,70.3 L228.4,70.2 L228.6,70.2 L228.8,70.1 L229.0,70.1 L229.2,70.1 L229.4,70.1 L229.6,70.1 L229.8,70.1 L230.0,70.1 L230.2,70.1 L230.4,70.1 L230.6,70.1 L230.8,70.1 L231.0,70.2 L231.2,70.3 L231.4,70.4 L231.6,70.5 L231.8,70.6 L232.0,70.7 L232.2,70.8 L232.4,70.7 L232.6,70.6 L232.8,70.5 L233.0,70.4 L233.2,70.3 L233.4,70.2 L233.6,70.1 L233.8,70.1 L234.0,70.1 L234.2,70.1 L234.4,70.1 L234.6,70.1 L234.8,70.1 L235.0,70.1 L235.2,70.1 L235.4,70.1 L235.6,70.1 L235.8,70.1 L236.0,70.1 L236.2,70.1 L236.4,70.2 L236.6,70.2 L236.8,70.4 L237.0,70.5 L237.2,70.6 L237.4,70.7 L237.6,70.7 L237.8,70.7 L238.0,70.6 L238.2,70.4 L238.4,70.3 L238.6,70.2 L238.8,70.1 L239.0,70.1 L239.2,70.1 L239.4,70.2 L239.6,70.3 L239.8,70.5 L240.0,70.7 L240.2,71.0 L240.4,71.2 L240.6,71.3 L240.8,71.4 L241.0,71.3 L241.2,71.1 L241.4,70.9 L241.6,70.7 L241.8,70.4 L242.0,70.3 L242.2,70.2 L242.4,70.1 L242.6,70.1 L242.8,70.0 L243.0,70.0 L243.2,70.0 L243.4,70.1 L243.6,70.1 L243.8,70.2 L244.0,70.3 L244.2,70.5 L244.4,70.6 L244.6,70.7 L244.8,70.8 L245.0,70.8 L245.2,70.7 L245.4,70.6 L245.6,70.6 L245.8,70.6 L246.0,70.6 L246.2,70.6 L246.4,70.7 L246.6,70.8 L246.8,70.9 L247.0,70.9 L247.2,70.9 L247.4,70.9 L247.6,70.9 L247.8,70.9 L248.0,71.0 L248.2,71.2 L248.4,71.4 L248.6,71.7 L248.8,71.9 L249.0,72.0 L249.2,72.0 L249.4,71.9 L249.6,71.7 L249.8,71.4 L250.0,71.1 L250.2,70.8 L250.4,70.6 L250.6,70.4 L250.8,70.3 L251.0,70.3 L251.2,70.3 L251.4,70.4 L251.6,70.5 L251.8,70.5 L252.0,70.5 L252.2,70.4 L252.4,70.3 L252.6,70.2 L252.8,70.1 L253.0,70.1 L253.2,70.1 L253.4,70.1 L253.6,70.2 L253.8,70.3 L254.0,70.5 L254.2,70.7 L254.4,70.8 L254.6,70.9 L254.8,70.8 L255.0,70.7 L255.2,70.6 L255.4,70.4 L255.6,70.3 L255.8,70.1 L256.0,70.1 L256.2,70.0 L256.4,70.0 L256.6,70.0 L256.8,70.0 L257.0,70.1 L257.2,70.1 L257.4,70.3 L257.6,70.4 L257.8,70.5 L258.0,70.6 L258.2,70.7 L258.4,70.7 L258.6,70.7 L258.8,70.7 L259.0,70.7 L259.2,70.8 L259.4,70.8 L259.6,70.9 L259.8,70.9 L260.0,70.9 L260.2,70.8 L260.4,70.7 L260.6,70.5 L260.8,70.4 L261.0,70.3 L261.2,70.2 L261.4,70.1 L261.6,70.0 L261.8,70.0 L262.0,69.9 L262.2,69.9 L262.4,69.9 L262.6,69.9 L262.8,69.9" fill="none" stroke="#ff0000" stroke-width="2.6" stroke-linejoin="round"/>
<path d="M37.0,105.4 L37.2,105.4 L37.4,105.4 L37.6,105.4 L37.8,105.4 L38.0,105.4 L38.2,105.4 L38.4,105.4 L38.6,105.4 L38.8,105.4 L39.0,105.4 L39.2,105.4 L39.4,105.4 L39.6,105.4 L39.8,105.4 L40.0,105.4 L40.2,105.4 L40.4,105.4 L40.6,105.4 L40.8,105.4 L41.0,105.4 L41.2,105.4 L41.4,105.4 L41.6,105.4 L41.8,105.4 L42.0,105.4 L42.2,105.4 L42.4,105.4 L42.6,105.4 L42.8,105.4 L43.0,105.4 L43.2,105.4 L43.4,105.4 L43.6,105.4 L43.8,105.4 L44.0,105.4 L44.2,105.4 L44.4,105.4 L44.6,105.4 L44.8,105.4 L45.0,105.4 L45.2,105.4 L45.4,105.4 L45.6,105.4 L45.8,105.4 L46.0,105.4 L46.2,105.4 L46.4,105.4 L46.6,105.4 L46.8,105.4 L47.0,105.4 L47.2,105.4 L47.4,105.4 L47.6,105.4 L47.8,105.4 L48.0,105.4 L48.2,105.4 L48.4,105.4 L48.6,105.4 L48.8,105.4 L49.0,105.4 L49.2,105.4 L49.4,105.4 L49.6,105.4 L49.8,105.4 L50.0,105.4 L50.2,105.4 L50.4,105.4 L50.6,105.4 L50.8,105.4 L51.0,105.4 L51.2,105.4 L51.4,105.4 L51.6,105.4 L51.8,105.4 L52.0,105.4 L52.2,105.4 L52.4,105.4 L52.6,105.4 L52.8,105.4 L53.0,105.4 L53.2,105.4 L53.4,105.4 L53.6,105.4 L53.8,105.4 L54.0,105.4 L54.2,105.4 L54.4,105.4 L54.6,105.4 L54.8,105.4 L55.0,105.4 L55.2,105.4 L55.4,105.4 L55.6,105.4 L55.8,105.4 L56.0,105.4 L56.2,105.4 L56.4,105.4 L56.6,105.4 L56.8,105.4 L57.0,105.4 L57.2,105.4 L57.4,105.4 L57.6,105.4 L57.8,105.4 L58.0,105.4 L58.2,105.4 L58.4,105.4 L58.6,105.4 L58.8,105.4 L59.0,105.4 L59.2,105.4 L59.4,105.4 L59.6,105.4 L59.8,105.4 L60.0,105.4 L60.2,105.4 L60.4,105.4 L60.6,105.4 L60.8,105.4 L61.0,105.4 L61.2,105.4 L61.4,105.4 L61.6,105.4 L61.8,105.4 L62.0,105.4 L62.2,105.4 L62.4,105.4 L62.6,105.4 L62.8,105.4 L63.0,105.4 L63.2,105.4 L63.4,105.4 L63.6,105.4 L63.8,105.4 L64.0,105.4 L64.2,105.4 L64.4,105.4 L64.6,105.4 L64.8,105.4 L65.0,105.4 L65.2,105.4 L65.4,105.4 L65.6,105.4 L65.8,105.4 L66.0,105.4 L66.2,105.4 L66.4,105.4 L66.6,105.4 L66.8,105.4 L67.0,105.4 L67.2,105.4 L67.4,105.4 L67.6,105.4 L67.8,105.4 L68.0,105.4 L68.2,105.4 L68.4,105.4 L68.6,105.4 L68.8,105.4 L69.0,105.4 L69.2,105.4 L69.4,105.4 L69.6,105.4 L69.8,105.4 L70.0,105.4 L70.2,105.4 L70.4,105.4 L70.6,105.4 L70.8,105.4 L71.0,105.4 L71.2,105.4 L71.4,105.4 L71.6,105.4 L71.8,105.4 L72.0,105.4 L72.2,105.4 L72.4,105.4 L72.6,105.4 L72.8,105.4 L73.0,105.4 L73.2,105.4 L73.4,105.4 L73.6,105.4 L73.8,105.4 L74.0,105.4 L74.2,105.4 L74.4,105.4 L74.6,105.4 L74.8,105.4 L75.0,105.4 L75.2,105.4 L75.4,105.4 L75.6,105.4 L75.8,105.4 L76.0,105.4 L76.2,105.4 L76.4,105.4 L76.6,105.4 L76.8,105.4 L77.0,105.4 L77.2,105.5 L77.4,105.6 L77.6,105.8 L77.8,106.0 L78.0,106.3 L78.2,106.7 L78.4,107.1 L78.6,107.6 L78.8,108.0 L79.0,108.4 L79.2,108.7 L79.4,108.7 L79.6,108.4 L79.8,107.9 L80.0,107.3 L80.2,106.7 L80.4,106.2 L80.6,105.9 L80.8,105.7 L81.0,105.6 L81.2,105.7 L81.4,105.8 L81.6,105.9 L81.8,106.0 L82.0,106.1 L82.2,106.2 L82.4,106.2 L82.6,106.1 L82.8,105.9 L83.0,105.8 L83.2,105.6 L83.4,105.6 L83.6,105.5 L83.8,105.5 L84.0,105.5 L84.2,105.6 L84.4,105.8 L84.6,106.1 L84.8,106.5 L85.0,106.9 L85.2,107.2 L85.4,107.4 L85.6,107.4 L85.8,107.3 L86.0,107.1 L86.2,106.9 L86.4,106.7 L86.6,106.6 L86.8,106.6 L87.0,106.5 L87.2,106.4 L87.4,106.3 L87.6,106.1 L87.8,105.9 L88.0,105.8 L88.2,105.7 L88.4,105.7 L88.6,105.8 L88.8,105.8 L89.0,105.8 L89.2,105.8 L89.4,105.7 L89.6,105.6 L89.8,105.5 L90.0,105.5 L90.2,105.4 L90.4,105.4 L90.6,105.4 L90.8,105.5 L91.0,105.5 L91.2,105.6 L91.4,105.9 L91.6,106.2 L91.8,106.7 L92.0,107.2 L92.2,107.7 L92.4,108.0 L92.6,108.0 L92.8,107.7 L93.0,107.2 L93.2,106.7 L93.4,106.2 L93.6,105.9 L93.8,105.6 L94.0,105.5 L94.2,105.4 L94.4,105.4 L94.6,105.4 L94.8,105.4 L95.0,105.4 L95.2,105.4 L95.4,105.5 L95.6,105.6 L95.8,105.7 L96.0,105.8 L96.2,105.9 L96.4,105.9 L96.6,106.0 L96.8,105.9 L97.0,105.9 L97.2,105.9 L97.4,105.9 L97.6,106.0 L97.8,106.1 L98.0,106.3 L98.2,106.5 L98.4,106.5 L98.6,106.4 L98.8,106.3 L99.0,106.1 L99.2,105.9 L99.4,105.7 L99.6,105.6 L99.8,105.5 L100.0,105.6 L100.2,105.7 L100.4,105.9 L100.6,106.2 L100.8,106.6 L101.0,106.9 L101.2,107.2 L101.4,107.3 L101.6,107.3 L101.8,107.2 L102.0,107.1 L102.2,106.9 L102.4,106.8 L102.6,106.5 L102.8,106.3 L103.0,106.1 L103.2,106.0 L103.4,105.9 L103.6,105.9 L103.8,105.9 L104.0,106.0 L104.2,106.0 L104.4,105.9 L104.6,105.8 L104.8,105.7 L105.0,105.6 L105.2,105.5 L105.4,105.5 L105.6,105.4 L105.8,105.4 L106.0,105.5 L106.2,105.5 L106.4,105.7 L106.6,106.0 L106.8,106.5 L107.0,107.2 L107.2,108.1 L107.4,109.0 L107.6,109.7 L107.8,110.0 L108.0,109.9 L108.2,109.4 L108.4,108.8 L108.6,108.1 L108.8,107.5 L109.0,107.0 L109.2,106.8 L109.4,106.6 L109.6,106.5 L109.8,106.5 L110.0,106.5 L110.2,106.4 L110.4,106.3 L110.6,106.2 L110.8,106.2 L111.0,106.2 L111.2,106.2 L111.4,106.2 L111.6,106.3 L111.8,106.3 L112.0,106.4 L112.2,106.4 L112.4,106.4 L112.6,106.3 L112.8,106.2 L113.0,106.0 L113.2,105.9 L113.4,106.0 L113.6,106.4 L113.8,107.1 L114.0,108.3 L114.2,109.8 L114.4,111.6 L114.6,113.1 L114.8,114.0 L115.0,114.0 L115.2,113.1 L115.4,111.5 L115.6,109.8 L115.8,108.2 L116.0,107.1 L116.2,106.4 L116.4,106.2 L116.6,106.4 L116.8,107.2 L117.0,108.4 L117.2,110.1 L117.4,111.9 L117.6,113.6 L117.8,114.6 L118.0,114.8 L118.2,114.0 L118.4,112.5 L118.6,110.8 L118.8,109.2 L119.0,107.9 L119.2,107.1 L119.4,106.7 L119.6,106.8 L119.8,107.3 L120.0,108.2 L120.2,109.5 L120.4,110.7 L120.6,111.7 L120.8,112.1 L121.0,111.9 L121.2,111.1 L121.4,110.0 L121.6,108.9 L121.8,108.0 L122.0,107.4 L122.2,106.9 L122.4,106.6 L122.6,106.3 L122.8,106.2 L123.0,106.1 L123.2,106.3 L123.4,106.7 L123.6,107.4 L123.8,108.2 L124.0,109.1 L124.2,109.8 L124.4,110.0 L124.6,109.8 L124.8,109.1 L125.0,108.3 L125.2,107.5 L125.4,107.1 L125.6,107.1 L125.8,107.5 L126.0,108.4 L126.2,109.4 L126.4,110.4 L126.6,110.9 L126.8,110.9 L127.0,110.3 L127.2,109.4 L127.4,108.2 L127.6,107.2 L127.8,106.4 L128.0,105.9 L128.2,105.6 L128.4,105.5 L128.6,105.4 L128.8,105.4 L129.0,105.4 L129.2,105.4 L129.4,105.4 L129.6,105.4 L129.8,105.4 L130.0,105.4 L130.2,105.5 L130.4,105.6 L130.6,106.0 L130.8,106.6 L131.0,107.6 L131.2,109.0 L131.4,110.8 L131.6,112.6 L131.8,114.0 L132.0,114.7 L132.2,114.5 L132.4,113.4 L132.6,111.8 L132.8,110.1 L133.0,108.6 L133.2,107.6 L133.4,106.9 L133.6,106.5 L133.8,106.3 L134.0,106.2 L134.2,106.1 L134.4,106.0 L134.6,106.1 L134.8,106.3 L135.0,106.7 L135.2,107.3 L135.4,108.0 L135.6,108.6 L135.8,109.0 L136.0,109.0 L136.2,108.6 L136.4,108.0 L136.6,107.3 L136.8,106.7 L137.0,106.3 L137.2,106.1 L137.4,106.2 L137.6,106.3 L137.8,106.6 L138.0,107.0 L138.2,107.5 L138.4,108.1 L138.6,108.8 L138.8,109.6 L139.0,110.5 L139.2,111.3 L139.4,111.7 L139.6,111.5 L139.8,110.9 L140.0,109.9 L140.2,108.8 L140.4,107.9 L140.6,107.2 L140.8,106.9 L141.0,107.0 L141.2,107.6 L141.4,108.7 L141.6,110.5 L141.8,112.7 L142.0,114.8 L142.2,116.5 L142.4,117.1 L142.6,116.6 L142.8,115.0 L143.0,112.9 L143.2,110.7 L143.4,108.9 L143.6,107.6 L143.8,106.7 L144.0,106.2 L144.2,105.8 L144.4,105.6 L144.6,105.5 L144.8,105.5 L145.0,105.4 L145.2,105.4 L145.4,105.4 L145.6,105.4 L145.8,105.4 L146.0,105.4 L146.2,105.4 L146.4,105.5 L146.6,105.5 L146.8,105.8 L147.0,106.2 L147.2,106.9 L147.4,108.0 L147.6,109.5 L147.8,111.1 L148.0,112.5 L148.2,113.4 L148.4,113.4 L148.6,112.6 L148.8,111.1 L149.0,109.6 L149.2,108.2 L149.4,107.3 L149.6,106.9 L149.8,107.0 L150.0,107.5 L150.2,108.2 L150.4,108.8 L150.6,109.3 L150.8,109.3 L151.0,109.0 L151.2,108.4 L151.4,107.6 L151.6,106.8 L151.8,106.3 L152.0,105.9 L152.2,105.6 L152.4,105.5 L152.6,105.5 L152.8,105.5 L153.0,105.6 L153.2,105.8 L153.4,106.3 L153.6,107.2 L153.8,108.8 L154.0,110.9 L154.2,113.6 L154.4,116.3 L154.6,118.3 L154.8,119.2 L155.0,118.6 L155.2,116.8 L155.4,114.3 L155.6,111.7 L155.8,109.4 L156.0,107.8 L156.2,106.7 L156.4,106.0 L156.6,105.7 L156.8,105.6 L157.0,105.7 L157.2,105.9 L157.4,106.3 L157.6,106.9 L157.8,107.6 L158.0,108.3 L158.2,108.8 L158.4,109.0 L158.6,108.9 L158.8,108.4 L159.0,107.8 L159.2,107.3 L159.4,107.0 L159.6,106.8 L159.8,106.8 L160.0,106.8 L160.2,106.7 L160.4,106.6 L160.6,106.4 L160.8,106.1 L161.0,105.9 L161.2,105.7 L161.4,105.6 L161.6,105.5 L161.8,105.4 L162.0,105.4 L162.2,105.4 L162.4,105.4 L162.6,105.4 L162.8,105.4 L163.0,105.4 L163.2,105.4 L163.4,105.4 L163.6,105.4 L163.8,105.4 L164.0,105.4 L164.2,105.4 L164.4,105.4 L164.6,105.4 L164.8,105.4 L165.0,105.4 L165.2,105.4 L165.4,105.4 L165.6,105.4 L165.8,105.4 L166.0,105.4 L166.2,105.4 L166.4,105.4 L166.6,105.5 L166.8,105.6 L167.0,105.9 L167.2,106.3 L167.4,107.1 L167.6,108.2 L167.8,109.6 L168.0,110.9 L168.2,111.9 L168.4,112.3 L168.6,111.9 L168.8,110.9 L169.0,109.6 L169.2,108.2 L169.4,107.1 L169.6,106.3 L169.8,105.9 L170.0,105.6 L170.2,105.5 L170.4,105.4 L170.6,105.4 L170.8,105.4 L171.0,105.4 L171.2,105.4 L171.4,105.4 L171.6,105.5 L171.8,105.6 L172.0,105.7 L172.2,105.9 L172.4,106.2 L172.6,106.6 L172.8,107.0 L173.0,107.3 L173.2,107.5 L173.4,107.6 L173.6,107.6 L173.8,107.6 L174.0,107.5 L174.2,107.3 L174.4,107.1 L174.6,106.7 L174.8,106.3 L175.0,106.0 L175.2,105.8 L175.4,105.6 L175.6,105.5 L175.8,105.4 L176.0,105.4 L176.2,105.4 L176.4,105.4 L176.6,105.4 L176.8,105.5 L177.0,105.5 L177.2,105.6 L177.4,105.7 L177.6,105.9 L177.8,106.0 L178.0,106.1 L178.2,106.1 L178.4,106.1 L178.6,106.1 L178.8,106.0 L179.0,105.9 L179.2,105.8 L179.4,105.7 L179.6,105.7 L179.8,105.8 L180.0,105.9 L180.2,106.1 L180.4,106.2 L180.6,106.3 L180.8,106.3 L181.0,106.1 L181.2,106.0 L181.4,105.8 L181.6,105.6 L181.8,105.5 L182.0,105.5 L182.2,105.4 L182.4,105.4 L182.6,105.5 L182.8,105.6 L183.0,105.8 L183.2,106.2 L183.4,106.8 L183.6,107.8 L183.8,108.9 L184.0,110.1 L184.2,111.1 L184.4,111.6 L184.6,111.6 L184.8,111.2 L185.0,110.6 L185.2,109.9 L185.4,109.4 L185.6,108.9 L185.8,108.5 L186.0,108.2 L186.2,107.8 L186.4,107.4 L186.6,107.0 L186.8,106.7 L187.0,106.4 L187.2,106.1 L187.4,105.9 L187.6,105.8 L187.8,105.7 L188.0,105.7 L188.2,105.8 L188.4,105.9 L188.6,106.0 L188.8,106.1 L189.0,106.2 L189.2,106.1 L189.4,106.0 L189.6,105.9 L189.8,105.7 L190.0,105.6 L190.2,105.5 L190.4,105.5 L190.6,105.4 L190.8,105.4 L191.0,105.4 L191.2,105.4 L191.4,105.5 L191.6,105.5 L191.8,105.6 L192.0,105.8 L192.2,105.9 L192.4,106.0 L192.6,106.0 L192.8,106.0 L193.0,105.9 L193.2,105.8 L193.4,105.7 L193.6,105.6 L193.8,105.5 L194.0,105.6 L194.2,105.6 L194.4,105.8 L194.6,106.1 L194.8,106.4 L195.0,106.8 L195.2,107.1 L195.4,107.2 L195.6,107.2 L195.8,107.1 L196.0,106.9 L196.2,106.8 L196.4,106.8 L196.6,106.9 L196.8,107.1 L197.0,107.2 L197.2,107.3 L197.4,107.4 L197.6,107.4 L197.8,107.4 L198.0,107.2 L198.2,107.1 L198.4,106.9 L198.6,106.7 L198.8,106.6 L199.0,106.4 L199.2,106.2 L199.4,106.1 L199.6,105.9 L199.8,105.8 L200.0,105.6 L200.2,105.5 L200.4,105.5 L200.6,105.4 L200.8,105.4 L201.0,105.4 L201.2,105.4 L201.4,105.4 L201.6,105.4 L201.8,105.4 L202.0,105.4 L202.2,105.4 L202.4,105.4 L202.6,105.4 L202.8,105.5 L203.0,105.6 L203.2,105.7 L203.4,105.9 L203.6,106.1 L203.8,106.3 L204.0,106.5 L204.2,106.6 L204.4,106.7 L204.6,106.8 L204.8,106.7 L205.0,106.6 L205.2,106.5 L205.4,106.4 L205.6,106.3 L205.8,106.2 L206.0,106.1 L206.2,106.0 L206.4,105.9 L206.6,105.7 L206.8,105.6 L207.0,105.5 L207.2,105.5 L207.4,105.4 L207.6,105.4 L207.8,105.4 L208.0,105.4 L208.2,105.4 L208.4,105.4 L208.6,105.4 L208.8,105.5 L209.0,105.6 L209.2,105.9 L209.4,106.2 L209.6,106.6 L209.8,107.1 L210.0,107.5 L210.2,107.8 L210.4,107.8 L210.6,107.7 L210.8,107.3 L211.0,107.0 L211.2,106.7 L211.4,106.5 L211.6,106.4 L211.8,106.3 L212.0,106.3 L212.2,106.4 L212.4,106.5 L212.6,106.7 L212.8,106.8 L213.0,106.9 L213.2,106.9 L213.4,106.8 L213.6,106.7 L213.8,106.5 L214.0,106.4 L214.2,106.3 L214.4,106.2 L214.6,106.2 L214.8,106.1 L215.0,106.0 L215.2,105.9 L215.4,105.8 L215.6,105.6 L215.8,105.5 L216.0,105.5 L216.2,105.4 L216.4,105.4 L216.6,105.4 L216.8,105.4 L217.0,105.4 L217.2,105.4 L217.4,105.4 L217.6,105.4 L217.8,105.4 L218.0,105.4 L218.2,105.4 L218.4,105.4 L218.6,105.5 L218.8,105.6 L219.0,105.7 L219.2,105.8 L219.4,106.0 L219.6,106.2 L219.8,106.3 L220.0,106.4 L220.2,106.3 L220.4,106.2 L220.6,106.1 L220.8,106.1 L221.0,106.0 L221.2,106.0 L221.4,105.9 L221.6,105.9 L221.8,106.0 L222.0,106.1 L222.2,106.3 L222.4,106.7 L222.6,107.4 L222.8,108.2 L223.0,109.1 L223.2,110.0 L223.4,110.7 L223.6,110.9 L223.8,110.6 L224.0,109.8 L224.2,108.9 L224.4,107.9 L224.6,107.1 L224.8,106.5 L225.0,106.2 L225.2,106.2 L225.4,106.2 L225.6,106.3 L225.8,106.4 L226.0,106.4 L226.2,106.3 L226.4,106.1 L226.6,105.9 L226.8,105.7 L227.0,105.6 L227.2,105.5 L227.4,105.4 L227.6,105.4 L227.8,105.4 L228.0,105.4 L228.2,105.4 L228.4,105.4 L228.6,105.4 L228.8,105.4 L229.0,105.4 L229.2,105.4 L229.4,105.4 L229.6,105.4 L229.8,105.4 L230.0,105.4 L230.2,105.4 L230.4,105.4 L230.6,105.4 L230.8,105.4 L231.0,105.4 L231.2,105.4 L231.4,105.4 L231.6,105.4 L231.8,105.5 L232.0,105.5 L232.2,105.6 L232.4,105.7 L232.6,105.9 L232.8,106.0 L233.0,106.2 L233.2,106.3 L233.4,106.3 L233.6,106.3 L233.8,106.3 L234.0,106.3 L234.2,106.3 L234.4,106.3 L234.6,106.3 L234.8,106.4 L235.0,106.5 L235.2,106.6 L235.4,106.6 L235.6,106.6 L235.8,106.6 L236.0,106.5 L236.2,106.4 L236.4,106.2 L236.6,106.0 L236.8,105.8 L237.0,105.8 L237.2,105.8 L237.4,106.0 L237.6,106.2 L237.8,106.5 L238.0,106.8 L238.2,107.0 L238.4,107.0 L238.6,106.8 L238.8,106.5 L239.0,106.2 L239.2,106.0 L239.4,105.8 L239.6,105.8 L239.8,105.9 L240.0,106.0 L240.2,106.2 L240.4,106.4 L240.6,106.5 L240.8,106.6 L241.0,106.8 L241.2,106.9 L241.4,107.1 L241.6,107.2 L241.8,107.3 L242.0,107.3 L242.2,107.2 L242.4,106.9 L242.6,106.6 L242.8,106.3 L243.0,106.0 L243.2,105.8 L243.4,105.6 L243.6,105.5 L243.8,105.4 L244.0,105.4 L244.2,105.4 L244.4,105.4 L244.6,105.4 L244.8,105.4 L245.0,105.4 L245.2,105.4 L245.4,105.4 L245.6,105.4 L245.8,105.4 L246.0,105.4 L246.2,105.4 L246.4,105.4 L246.6,105.4 L246.8,105.4 L247.0,105.5 L247.2,105.5 L247.4,105.7 L247.6,105.8 L247.8,105.9 L248.0,106.1 L248.2,106.2 L248.4,106.2 L248.6,106.2 L248.8,106.2 L249.0,106.1 L249.2,106.1 L249.4,106.1 L249.6,106.1 L249.8,106.0 L250.0,105.9 L250.2,105.8 L250.4,105.7 L250.6,105.6 L250.8,105.5 L251.0,105.5 L251.2,105.4 L251.4,105.5 L251.6,105.6 L251.8,105.7 L252.0,105.9 L252.2,106.2 L252.4,106.5 L252.6,106.8 L252.8,107.0 L253.0,107.0 L253.2,106.8 L253.4,106.5 L253.6,106.2 L253.8,105.9 L254.0,105.7 L254.2,105.6 L254.4,105.5 L254.6,105.4 L254.8,105.4 L255.0,105.4 L255.2,105.4 L255.4,105.4 L255.6,105.4 L255.8,105.4 L256.0,105.4 L256.2,105.4 L256.4,105.5 L256.6,105.5 L256.8,105.6 L257.0,105.7 L257.2,105.9 L257.4,106.0 L257.6,106.0 L257.8,106.0 L258.0,106.0 L258.2,105.9 L258.4,105.7 L258.6,105.6 L258.8,105.5 L259.0,105.5 L259.2,105.4 L259.4,105.4 L259.6,105.4 L259.8,105.4 L260.0,105.5 L260.2,105.5 L260.4,105.6 L260.6,105.8 L260.8,105.9 L261.0,106.0 L261.2,106.0 L261.4,106.0 L261.6,105.9 L261.8,105.8 L262.0,105.6 L262.2,105.5 L262.4,105.5 L262.6,105.4 L262.8,105.4" fill="none" stroke="#10ec10" stroke-width="2.8" stroke-linejoin="round"/>
<path d="M37.0,133.0 L37.2,133.0 L37.4,133.0 L37.6,133.0 L37.8,133.0 L38.0,133.0 L38.2,133.0 L38.4,133.0 L38.6,133.0 L38.8,133.0 L39.0,133.0 L39.2,133.0 L39.4,133.0 L39.6,133.0 L39.8,133.0 L40.0,133.0 L40.2,133.0 L40.4,133.0 L40.6,133.0 L40.8,133.0 L41.0,133.0 L41.2,133.0 L41.4,133.0 L41.6,133.0 L41.8,133.0 L42.0,133.0 L42.2,133.0 L42.4,133.0 L42.6,133.0 L42.8,133.0 L43.0,133.0 L43.2,133.0 L43.4,133.0 L43.6,133.0 L43.8,133.0 L44.0,133.0 L44.2,133.0 L44.4,133.0 L44.6,133.0 L44.8,133.0 L45.0,133.0 L45.2,133.0 L45.4,133.0 L45.6,133.0 L45.8,133.0 L46.0,133.0 L46.2,133.0 L46.4,133.0 L46.6,133.0 L46.8,133.0 L47.0,133.0 L47.2,133.0 L47.4,133.0 L47.6,133.0 L47.8,133.0 L48.0,133.0 L48.2,133.0 L48.4,133.0 L48.6,133.0 L48.8,133.0 L49.0,133.0 L49.2,133.0 L49.4,133.0 L49.6,133.0 L49.8,133.0 L50.0,133.0 L50.2,133.0 L50.4,133.0 L50.6,133.0 L50.8,133.0 L51.0,133.0 L51.2,133.0 L51.4,133.0 L51.6,133.0 L51.8,133.0 L52.0,133.0 L52.2,133.0 L52.4,133.0 L52.6,133.0 L52.8,133.0 L53.0,133.0 L53.2,133.0 L53.4,133.0 L53.6,133.0 L53.8,133.0 L54.0,133.0 L54.2,133.0 L54.4,133.0 L54.6,133.0 L54.8,133.0 L55.0,133.0 L55.2,133.0 L55.4,133.0 L55.6,133.0 L55.8,133.0 L56.0,133.0 L56.2,133.0 L56.4,133.0 L56.6,133.0 L56.8,133.0 L57.0,133.0 L57.2,133.0 L57.4,133.0 L57.6,133.0 L57.8,133.0 L58.0,133.0 L58.2,133.0 L58.4,133.0 L58.6,133.0 L58.8,133.0 L59.0,133.0 L59.2,133.0 L59.4,133.0 L59.6,133.0 L59.8,133.0 L60.0,133.0 L60.2,133.0 L60.4,133.0 L60.6,133.0 L60.8,133.0 L61.0,133.0 L61.2,133.0 L61.4,133.0 L61.6,133.0 L61.8,133.0 L62.0,133.0 L62.2,133.0 L62.4,133.0 L62.6,133.0 L62.8,133.0 L63.0,133.0 L63.2,133.0 L63.4,133.0 L63.6,133.0 L63.8,133.0 L64.0,133.0 L64.2,133.0 L64.4,133.0 L64.6,133.0 L64.8,133.0 L65.0,133.0 L65.2,133.0 L65.4,133.0 L65.6,133.0 L65.8,133.0 L66.0,133.0 L66.2,133.0 L66.4,133.0 L66.6,133.0 L66.8,133.0 L67.0,133.0 L67.2,133.0 L67.4,133.0 L67.6,133.0 L67.8,133.0 L68.0,133.0 L68.2,133.0 L68.4,133.0 L68.6,133.0 L68.8,133.0 L69.0,133.0 L69.2,133.0 L69.4,133.0 L69.6,133.0 L69.8,133.0 L70.0,133.0 L70.2,133.0 L70.4,133.0 L70.6,133.0 L70.8,133.0 L71.0,133.0 L71.2,133.0 L71.4,133.0 L71.6,133.0 L71.8,133.0 L72.0,133.0 L72.2,133.0 L72.4,133.0 L72.6,133.0 L72.8,133.0 L73.0,133.0 L73.2,133.0 L73.4,133.0 L73.6,133.0 L73.8,133.0 L74.0,133.0 L74.2,133.0 L74.4,133.0 L74.6,133.0 L74.8,133.0 L75.0,133.0 L75.2,133.1 L75.4,133.2 L75.6,133.3 L75.8,133.5 L76.0,133.7 L76.2,133.9 L76.4,134.0 L76.6,134.0 L76.8,133.9 L77.0,133.8 L77.2,133.6 L77.4,133.5 L77.6,133.4 L77.8,133.5 L78.0,133.5 L78.2,133.6 L78.4,133.6 L78.6,133.6 L78.8,133.5 L79.0,133.3 L79.2,133.2 L79.4,133.1 L79.6,133.1 L79.8,133.0 L80.0,133.0 L80.2,133.0 L80.4,133.0 L80.6,133.0 L80.8,133.0 L81.0,133.0 L81.2,133.0 L81.4,133.0 L81.6,133.0 L81.8,133.0 L82.0,133.1 L82.2,133.1 L82.4,133.2 L82.6,133.4 L82.8,133.7 L83.0,134.0 L83.2,134.3 L83.4,134.5 L83.6,134.5 L83.8,134.4 L84.0,134.2 L84.2,134.0 L84.4,133.8 L84.6,133.6 L84.8,133.5 L85.0,133.4 L85.2,133.4 L85.4,133.3 L85.6,133.2 L85.8,133.2 L86.0,133.1 L86.2,133.1 L86.4,133.0 L86.6,133.0 L86.8,133.0 L87.0,133.0 L87.2,133.0 L87.4,133.0 L87.6,133.0 L87.8,133.0 L88.0,133.0 L88.2,133.0 L88.4,133.0 L88.6,133.0 L88.8,133.0 L89.0,133.0 L89.2,133.0 L89.4,133.0 L89.6,133.0 L89.8,133.0 L90.0,133.0 L90.2,133.0 L90.4,133.0 L90.6,133.0 L90.8,133.0 L91.0,133.0 L91.2,133.1 L91.4,133.1 L91.6,133.2 L91.8,133.3 L92.0,133.4 L92.2,133.6 L92.4,133.8 L92.6,133.9 L92.8,134.1 L93.0,134.1 L93.2,134.0 L93.4,133.9 L93.6,133.7 L93.8,133.6 L94.0,133.4 L94.2,133.2 L94.4,133.2 L94.6,133.1 L94.8,133.1 L95.0,133.2 L95.2,133.2 L95.4,133.3 L95.6,133.3 L95.8,133.3 L96.0,133.2 L96.2,133.2 L96.4,133.1 L96.6,133.1 L96.8,133.0 L97.0,133.0 L97.2,133.0 L97.4,133.1 L97.6,133.1 L97.8,133.3 L98.0,133.5 L98.2,133.9 L98.4,134.3 L98.6,134.7 L98.8,135.1 L99.0,135.2 L99.2,135.2 L99.4,134.9 L99.6,134.5 L99.8,134.1 L100.0,133.7 L100.2,133.4 L100.4,133.2 L100.6,133.1 L100.8,133.0 L101.0,133.0 L101.2,133.0 L101.4,133.0 L101.6,133.0 L101.8,133.1 L102.0,133.2 L102.2,133.3 L102.4,133.4 L102.6,133.5 L102.8,133.6 L103.0,133.7 L103.2,133.8 L103.4,133.9 L103.6,134.1 L103.8,134.2 L104.0,134.3 L104.2,134.3 L104.4,134.2 L104.6,134.1 L104.8,133.8 L105.0,133.6 L105.2,133.4 L105.4,133.3 L105.6,133.2 L105.8,133.2 L106.0,133.3 L106.2,133.4 L106.4,133.6 L106.6,133.7 L106.8,133.8 L107.0,133.8 L107.2,133.9 L107.4,134.0 L107.6,134.1 L107.8,134.2 L108.0,134.3 L108.2,134.4 L108.4,134.4 L108.6,134.4 L108.8,134.2 L109.0,134.1 L109.2,134.0 L109.4,134.1 L109.6,134.4 L109.8,135.0 L110.0,136.0 L110.2,137.3 L110.4,138.6 L110.6,139.7 L110.8,140.0 L111.0,139.7 L111.2,138.8 L111.4,137.5 L111.6,136.3 L111.8,135.3 L112.0,134.7 L112.2,134.4 L112.4,134.4 L112.6,134.8 L112.8,135.4 L113.0,136.4 L113.2,137.4 L113.4,138.4 L113.6,139.0 L113.8,138.9 L114.0,138.3 L114.2,137.2 L114.4,136.0 L114.6,134.9 L114.8,134.1 L115.0,133.6 L115.2,133.3 L115.4,133.1 L115.6,133.1 L115.8,133.1 L116.0,133.3 L116.2,133.6 L116.4,134.0 L116.6,134.7 L116.8,135.4 L117.0,136.0 L117.2,136.5 L117.4,136.7 L117.6,136.5 L117.8,136.1 L118.0,135.4 L118.2,134.8 L118.4,134.2 L118.6,134.0 L118.8,134.1 L119.0,134.7 L119.2,135.8 L119.4,137.6 L119.6,139.7 L119.8,141.9 L120.0,143.5 L120.2,144.1 L120.4,143.5 L120.6,141.9 L120.8,139.7 L121.0,137.6 L121.2,135.8 L121.4,134.7 L121.6,134.0 L121.8,133.8 L122.0,133.8 L122.2,133.9 L122.4,134.2 L122.6,134.4 L122.8,134.7 L123.0,135.1 L123.2,135.6 L123.4,136.2 L123.6,136.6 L123.8,136.8 L124.0,136.6 L124.2,136.1 L124.4,135.4 L124.6,134.7 L124.8,134.1 L125.0,133.6 L125.2,133.3 L125.4,133.1 L125.6,133.1 L125.8,133.0 L126.0,133.0 L126.2,133.1 L126.4,133.2 L126.6,133.5 L126.8,134.1 L127.0,135.1 L127.2,136.7 L127.4,139.1 L127.6,142.2 L127.8,145.7 L128.0,149.3 L128.2,152.3 L128.4,154.0 L128.6,154.1 L128.8,152.6 L129.0,149.9 L129.2,146.4 L129.4,142.8 L129.6,139.7 L129.8,137.2 L130.0,135.4 L130.2,134.3 L130.4,133.7 L130.6,133.5 L130.8,133.5 L131.0,133.8 L131.2,134.2 L131.4,134.8 L131.6,135.4 L131.8,135.8 L132.0,136.0 L132.2,135.8 L132.4,135.4 L132.6,134.8 L132.8,134.2 L133.0,133.7 L133.2,133.4 L133.4,133.2 L133.6,133.1 L133.8,133.0 L134.0,133.0 L134.2,133.0 L134.4,133.1 L134.6,133.2 L134.8,133.4 L135.0,133.7 L135.2,134.1 L135.4,134.6 L135.6,135.0 L135.8,135.4 L136.0,135.5 L136.2,135.4 L136.4,135.2 L136.6,135.0 L136.8,134.7 L137.0,134.6 L137.2,134.5 L137.4,134.4 L137.6,134.2 L137.8,134.1 L138.0,133.8 L138.2,133.6 L138.4,133.4 L138.6,133.2 L138.8,133.1 L139.0,133.1 L139.2,133.0 L139.4,133.0 L139.6,133.0 L139.8,133.0 L140.0,133.0 L140.2,133.0 L140.4,133.0 L140.6,133.0 L140.8,133.0 L141.0,133.0 L141.2,133.0 L141.4,133.0 L141.6,133.0 L141.8,133.0 L142.0,133.0 L142.2,133.0 L142.4,133.0 L142.6,133.0 L142.8,133.1 L143.0,133.1 L143.2,133.2 L143.4,133.4 L143.6,133.7 L143.8,134.0 L144.0,134.5 L144.2,135.1 L144.4,135.6 L144.6,136.0 L144.8,136.1 L145.0,135.9 L145.2,135.4 L145.4,134.8 L145.6,134.2 L145.8,133.8 L146.0,133.4 L146.2,133.2 L146.4,133.1 L146.6,133.0 L146.8,133.0 L147.0,133.0 L147.2,133.0 L147.4,133.0 L147.6,133.0 L147.8,133.0 L148.0,133.0 L148.2,133.0 L148.4,133.0 L148.6,133.0 L148.8,133.0 L149.0,133.0 L149.2,133.0 L149.4,133.0 L149.6,133.1 L149.8,133.3 L150.0,133.7 L150.2,134.3 L150.4,135.3 L150.6,136.5 L150.8,137.9 L151.0,139.2 L151.2,139.9 L151.4,139.9 L151.6,139.2 L151.8,137.9 L152.0,136.6 L152.2,135.3 L152.4,134.4 L152.6,133.9 L152.8,133.7 L153.0,134.1 L153.2,134.9 L153.4,136.4 L153.6,138.8 L153.8,142.1 L154.0,146.2 L154.2,150.5 L154.4,154.5 L154.6,157.3 L154.8,158.3 L155.0,157.3 L155.2,154.5 L155.4,150.5 L155.6,146.2 L155.8,142.1 L156.0,138.9 L156.2,136.6 L156.4,135.3 L156.6,134.9 L156.8,135.2 L157.0,136.1 L157.2,137.4 L157.4,138.7 L157.6,139.8 L157.8,140.3 L158.0,140.1 L158.2,139.2 L158.4,138.0 L158.6,136.7 L158.8,135.6 L159.0,134.7 L159.2,134.2 L159.4,134.1 L159.6,134.4 L159.8,135.1 L160.0,136.1 L160.2,137.3 L160.4,138.3 L160.6,138.9 L160.8,138.9 L161.0,138.3 L161.2,137.2 L161.4,136.1 L161.6,135.0 L161.8,134.2 L162.0,133.7 L162.2,133.5 L162.4,133.5 L162.6,133.7 L162.8,134.0 L163.0,134.6 L163.2,135.6 L163.4,137.0 L163.6,138.9 L163.8,141.1 L164.0,143.0 L164.2,144.1 L164.4,144.2 L164.6,143.1 L164.8,141.3 L165.0,139.2 L165.2,137.3 L165.4,135.8 L165.6,134.7 L165.8,134.0 L166.0,133.6 L166.2,133.4 L166.4,133.4 L166.6,133.5 L166.8,133.8 L167.0,134.2 L167.2,134.8 L167.4,135.4 L167.6,135.8 L167.8,136.0 L168.0,135.9 L168.2,135.4 L168.4,134.9 L168.6,134.4 L168.8,134.0 L169.0,133.7 L169.2,133.6 L169.4,133.5 L169.6,133.4 L169.8,133.3 L170.0,133.2 L170.2,133.2 L170.4,133.1 L170.6,133.1 L170.8,133.1 L171.0,133.1 L171.2,133.2 L171.4,133.4 L171.6,133.8 L171.8,134.4 L172.0,135.1 L172.2,135.9 L172.4,136.5 L172.6,136.8 L172.8,136.8 L173.0,136.4 L173.2,135.7 L173.4,134.9 L173.6,134.3 L173.8,133.8 L174.0,133.6 L174.2,133.5 L174.4,133.7 L174.6,133.9 L174.8,134.2 L175.0,134.5 L175.2,134.7 L175.4,134.9 L175.6,134.9 L175.8,134.8 L176.0,134.6 L176.2,134.4 L176.4,134.3 L176.6,134.2 L176.8,134.1 L177.0,134.1 L177.2,134.0 L177.4,134.0 L177.6,133.9 L177.8,133.8 L178.0,133.6 L178.2,133.5 L178.4,133.4 L178.6,133.4 L178.8,133.4 L179.0,133.4 L179.2,133.5 L179.4,133.6 L179.6,133.8 L179.8,134.0 L180.0,134.4 L180.2,134.9 L180.4,135.5 L180.6,135.9 L180.8,136.0 L181.0,135.8 L181.2,135.4 L181.4,134.8 L181.6,134.2 L181.8,133.7 L182.0,133.4 L182.2,133.2 L182.4,133.1 L182.6,133.1 L182.8,133.1 L183.0,133.1 L183.2,133.3 L183.4,133.5 L183.6,133.8 L183.8,134.2 L184.0,134.6 L184.2,134.9 L184.4,135.1 L184.6,135.0 L184.8,134.9 L185.0,134.6 L185.2,134.3 L185.4,134.1 L185.6,133.9 L185.8,133.7 L186.0,133.6 L186.2,133.4 L186.4,133.3 L186.6,133.2 L186.8,133.1 L187.0,133.0 L187.2,133.0 L187.4,133.0 L187.6,133.1 L187.8,133.1 L188.0,133.2 L188.2,133.3 L188.4,133.4 L188.6,133.5 L188.8,133.5 L189.0,133.5 L189.2,133.4 L189.4,133.3 L189.6,133.2 L189.8,133.2 L190.0,133.2 L190.2,133.2 L190.4,133.4 L190.6,133.7 L190.8,134.0 L191.0,134.4 L191.2,134.8 L191.4,135.0 L191.6,135.0 L191.8,134.8 L192.0,134.4 L192.2,134.1 L192.4,133.8 L192.6,133.6 L192.8,133.5 L193.0,133.5 L193.2,133.6 L193.4,133.7 L193.6,133.7 L193.8,133.6 L194.0,133.5 L194.2,133.4 L194.4,133.2 L194.6,133.1 L194.8,133.1 L195.0,133.0 L195.2,133.0 L195.4,133.0 L195.6,133.0 L195.8,133.0 L196.0,133.0 L196.2,133.0 L196.4,133.0 L196.6,133.0 L196.8,133.0 L197.0,133.0 L197.2,133.0 L197.4,133.0 L197.6,133.0 L197.8,133.0 L198.0,133.0 L198.2,133.0 L198.4,133.0 L198.6,133.1 L198.8,133.1 L199.0,133.3 L199.2,133.4 L199.4,133.6 L199.6,133.8 L199.8,134.0 L200.0,134.2 L200.2,134.3 L200.4,134.3 L200.6,134.3 L200.8,134.2 L201.0,134.0 L201.2,133.8 L201.4,133.6 L201.6,133.4 L201.8,133.4 L202.0,133.5 L202.2,133.6 L202.4,133.8 L202.6,133.9 L202.8,134.0 L203.0,134.1 L203.2,134.1 L203.4,134.2 L203.6,134.4 L203.8,134.9 L204.0,135.4 L204.2,135.9 L204.4,136.2 L204.6,136.1 L204.8,135.8 L205.0,135.2 L205.2,134.6 L205.4,134.0 L205.6,133.6 L205.8,133.3 L206.0,133.1 L206.2,133.0 L206.4,133.0 L206.6,133.0 L206.8,132.9 L207.0,132.9 L207.2,132.9 L207.4,132.9 L207.6,132.9 L207.8,133.0 L208.0,133.0 L208.2,133.0 L208.4,133.1 L208.6,133.1 L208.8,133.2 L209.0,133.2 L209.2,133.3 L209.4,133.2 L209.6,133.2 L209.8,133.1 L210.0,133.1 L210.2,133.0 L210.4,133.0 L210.6,132.9 L210.8,132.9 L211.0,132.9 L211.2,132.9 L211.4,132.9 L211.6,132.9 L211.8,132.9 L212.0,132.9 L212.2,132.9 L212.4,133.0 L212.6,133.1 L212.8,133.4 L213.0,133.9 L213.2,134.6 L213.4,135.6 L213.6,136.7 L213.8,137.7 L214.0,138.4 L214.2,138.6 L214.4,138.1 L214.6,137.2 L214.8,136.1 L215.0,135.1 L215.2,134.2 L215.4,133.6 L215.6,133.3 L215.8,133.1 L216.0,133.0 L216.2,133.0 L216.4,133.1 L216.6,133.2 L216.8,133.3 L217.0,133.6 L217.2,133.9 L217.4,134.5 L217.6,135.3 L217.8,136.4 L218.0,137.6 L218.2,138.6 L218.4,139.2 L218.6,139.2 L218.8,138.5 L219.0,137.4 L219.2,136.1 L219.4,134.9 L219.6,134.0 L219.8,133.5 L220.0,133.1 L220.2,133.0 L220.4,132.9 L220.6,132.9 L220.8,132.8 L221.0,132.8 L221.2,132.9 L221.4,132.9 L221.6,133.0 L221.8,133.0 L222.0,133.2 L222.2,133.3 L222.4,133.4 L222.6,133.4 L222.8,133.4 L223.0,133.3 L223.2,133.2 L223.4,133.1 L223.6,133.0 L223.8,132.9 L224.0,132.9 L224.2,132.8 L224.4,132.8 L224.6,132.8 L224.8,132.8 L225.0,132.8 L225.2,132.8 L225.4,132.8 L225.6,132.8 L225.8,132.9 L226.0,132.9 L226.2,133.1 L226.4,133.3 L226.6,133.6 L226.8,134.0 L227.0,134.4 L227.2,134.7 L227.4,134.8 L227.6,134.7 L227.8,134.4 L228.0,134.0 L228.2,133.6 L228.4,133.4 L228.6,133.2 L228.8,133.1 L229.0,133.1 L229.2,133.2 L229.4,133.2 L229.6,133.3 L229.8,133.2 L230.0,133.2 L230.2,133.2 L230.4,133.2 L230.6,133.1 L230.8,133.1 L231.0,133.0 L231.2,133.0 L231.4,132.9 L231.6,132.8 L231.8,132.8 L232.0,132.8 L232.2,132.8 L232.4,132.7 L232.6,132.7 L232.8,132.7 L233.0,132.7 L233.2,132.7 L233.4,132.7 L233.6,132.7 L233.8,132.7 L234.0,132.7 L234.2,132.8 L234.4,132.8 L234.6,132.8 L234.8,132.9 L235.0,132.9 L235.2,133.0 L235.4,133.0 L235.6,133.0 L235.8,133.1 L236.0,133.1 L236.2,133.1 L236.4,133.1 L236.6,133.1 L236.8,133.0 L237.0,133.0 L237.2,132.9 L237.4,132.8 L237.6,132.8 L237.8,132.7 L238.0,132.7 L238.2,132.8 L238.4,132.8 L238.6,132.9 L238.8,133.0 L239.0,133.1 L239.2,133.2 L239.4,133.3 L239.6,133.3 L239.8,133.4 L240.0,133.4 L240.2,133.5 L240.4,133.5 L240.6,133.6 L240.8,133.6 L241.0,133.5 L241.2,133.4 L241.4,133.3 L241.6,133.2 L241.8,133.1 L242.0,133.1 L242.2,133.1 L242.4,133.2 L242.6,133.2 L242.8,133.3 L243.0,133.3 L243.2,133.3 L243.4,133.3 L243.6,133.3 L243.8,133.2 L244.0,133.1 L244.2,133.0 L244.4,132.9 L244.6,132.8 L244.8,132.7 L245.0,132.7 L245.2,132.7 L245.4,132.6 L245.6,132.6 L245.8,132.6 L246.0,132.6 L246.2,132.6 L246.4,132.6 L246.6,132.6 L246.8,132.6 L247.0,132.6 L247.2,132.6 L247.4,132.6 L247.6,132.6 L247.8,132.7 L248.0,132.7 L248.2,132.7 L248.4,132.9 L248.6,133.0 L248.8,133.2 L249.0,133.4 L249.2,133.6 L249.4,133.7 L249.6,133.7 L249.8,133.7 L250.0,133.6 L250.2,133.5 L250.4,133.4 L250.6,133.3 L250.8,133.3 L251.0,133.3 L251.2,133.3 L251.4,133.2 L251.6,133.1 L251.8,132.9 L252.0,132.8 L252.2,132.7 L252.4,132.7 L252.6,132.6 L252.8,132.6 L253.0,132.6 L253.2,132.6 L253.4,132.6 L253.6,132.6 L253.8,132.6 L254.0,132.6 L254.2,132.6 L254.4,132.6 L254.6,132.6 L254.8,132.6 L255.0,132.6 L255.2,132.6 L255.4,132.6 L255.6,132.6 L255.8,132.6 L256.0,132.6 L256.2,132.6 L256.4,132.6 L256.6,132.6 L256.8,132.5 L257.0,132.5 L257.2,132.5 L257.4,132.5 L257.6,132.5 L257.8,132.5 L258.0,132.5 L258.2,132.5 L258.4,132.5 L258.6,132.5 L258.8,132.5 L259.0,132.5 L259.2,132.5 L259.4,132.5 L259.6,132.5 L259.8,132.5 L260.0,132.5 L260.2,132.5 L260.4,132.5 L260.6,132.5 L260.8,132.5 L261.0,132.5 L261.2,132.5 L261.4,132.5 L261.6,132.5 L261.8,132.5 L262.0,132.5 L262.2,132.5 L262.4,132.5 L262.6,132.5 L262.8,132.5" fill="none" stroke="#0000ff" stroke-width="2.7" stroke-linejoin="round"/>
</g>
<rect x="221.6" y="96" width="3.6" height="27.5" fill="#2fd3dc" opacity="0.8"/>
<rect x="225" y="123.5" width="4.4" height="28" fill="#f3b5ef" opacity="0.7"/>
<rect x="36.0" y="11.2" width="227.5" height="167.4" fill="none" stroke="#000" stroke-width="2.2"/>
<line x1="36.0" y1="178.6" x2="36.0" y2="182.1" stroke="#000" stroke-width="1.6"/>
<line x1="92.9" y1="178.6" x2="92.9" y2="180.6" stroke="#000" stroke-width="1.6"/>
<line x1="149.8" y1="178.6" x2="149.8" y2="182.1" stroke="#000" stroke-width="1.6"/>
<line x1="206.6" y1="178.6" x2="206.6" y2="180.6" stroke="#000" stroke-width="1.6"/>
<line x1="263.5" y1="178.6" x2="263.5" y2="182.1" stroke="#000" stroke-width="1.6"/>
<text x="35.5" y="197.2" font-size="15" font-weight="bold" text-anchor="middle">2000</text>
<text x="149.75" y="197.2" font-size="15" font-weight="bold" text-anchor="middle">1000</text>
<text x="263.5" y="197.2" font-size="15" font-weight="bold" text-anchor="middle">0</text>
<text x="85.5" y="214.6" font-size="15" font-weight="bold">Wavenumber (cm<tspan font-size="9.5" dy="-6">−1</tspan><tspan dy="6">)</tspan></text>
<text transform="translate(28.2,161.5) rotate(-90)" font-size="14.8" font-weight="bold">Transmittance (a. u.)</text>
<text transform="translate(5.6,19.3) scale(1.08,1)" font-size="17.6" font-weight="bold">(a)</text>
<text x="125.5" y="33.8" font-size="9.9" font-weight="bold">CTF</text>
<text x="118.7" y="65.3" font-size="9.9" font-weight="bold">CTF-Fe</text>
<text x="118.5" y="101.5" font-size="9.9" font-weight="bold">CTF-Co</text>
<text x="119" y="128.8" font-size="9.9" font-weight="bold">CTF-Ni</text>
<text x="47" y="25.3" font-size="9.3" fill="#111" stroke="#111" stroke-width="0.12">C=N</text>
<text x="136.8" y="22.8" font-size="9.3" fill="#111" stroke="#111" stroke-width="0.12">C–N</text>
<text x="161.5" y="59.7" font-size="9.3" fill="#111" stroke="#111" stroke-width="0.12">Fe–N</text>
<text x="175.6" y="101" font-size="9.3" fill="#111" stroke="#111" stroke-width="0.12">Co–N</text>
<text x="183.6" y="128" font-size="9.3" fill="#111" stroke="#111" stroke-width="0.12">Ni–N</text>
<line x1="85.5" y1="22.9" x2="68" y2="17.3" stroke="#aaa" stroke-width="0.9" marker-end="url(#ah2)"/>
<line x1="117.7" y1="22.4" x2="135.5" y2="19" stroke="#aaa" stroke-width="0.9" marker-end="url(#ah2)"/>
<line x1="215" y1="64.2" x2="183.4" y2="60.7" stroke="#aaa" stroke-width="0.9" marker-end="url(#ah2)"/>
<line x1="221.4" y1="101.3" x2="199.1" y2="98.3" stroke="#aaa" stroke-width="0.9" marker-end="url(#ah2)"/>
<line x1="221.4" y1="129.8" x2="203.9" y2="125.5" stroke="#aaa" stroke-width="0.9" marker-end="url(#ah2)"/>
<g clip-path="url(#cb)">
<path d="M321.0,172.3 L321.5,172.2 L322.0,172.2 L322.5,172.1 L323.0,172.0 L323.5,172.0 L324.0,171.9 L324.5,171.8 L325.0,171.8 L325.5,171.7 L326.0,171.6 L326.5,171.5 L327.0,171.5 L327.5,171.4 L328.0,171.3 L328.5,171.2 L329.0,171.2 L329.5,171.1 L330.0,171.0 L330.5,170.9 L331.0,170.9 L331.5,170.8 L332.0,170.7 L332.5,170.6 L333.0,170.5 L333.5,170.4 L334.0,170.4 L334.5,170.3 L335.0,170.2 L335.5,170.1 L336.0,170.0 L336.5,169.9 L337.0,169.8 L337.5,169.7 L338.0,169.6 L338.5,169.5 L339.0,169.4 L339.5,169.3 L340.0,169.2 L340.5,169.0 L341.0,168.9 L341.5,168.8 L342.0,168.7 L342.5,168.6 L343.0,168.4 L343.5,168.3 L344.0,168.1 L344.5,168.0 L345.0,167.9 L345.5,167.7 L346.0,167.6 L346.5,167.4 L347.0,167.2 L347.5,167.1 L348.0,166.9 L348.5,166.7 L349.0,166.5 L349.5,166.3 L350.0,166.1 L350.5,165.9 L351.0,165.7 L351.5,165.4 L352.0,165.2 L352.5,164.9 L353.0,164.7 L353.5,164.4 L354.0,164.1 L354.5,163.8 L355.0,163.4 L355.5,163.1 L356.0,162.7 L356.5,162.3 L357.0,161.9 L357.5,161.5 L358.0,161.0 L358.5,160.5 L359.0,160.0 L359.5,159.4 L360.0,158.8 L360.5,158.1 L361.0,157.5 L361.5,156.7 L362.0,156.0 L362.5,155.2 L363.0,154.3 L363.5,153.4 L364.0,152.4 L364.5,151.4 L365.0,150.3 L365.5,149.1 L366.0,147.9 L366.5,146.6 L367.0,145.1 L367.5,143.6 L368.0,141.9 L368.5,140.1 L369.0,138.1 L369.5,135.9 L370.0,133.5 L370.5,130.9 L371.0,128.0 L371.5,124.8 L372.0,121.3 L372.5,117.5 L373.0,113.3 L373.5,108.7 L374.0,103.7 L374.5,98.2 L375.0,92.2 L375.5,85.8 L376.0,78.9 L376.5,71.6 L377.0,64.0 L377.5,56.1 L378.0,48.2 L378.5,40.5 L379.0,33.2 L379.5,26.8 L380.0,21.6 L380.5,17.8 L381.0,15.8 L381.5,15.7 L382.0,17.9 L382.5,22.3 L383.0,28.6 L383.5,36.2 L384.0,44.7 L384.5,53.7 L385.0,62.7 L385.5,71.5 L386.0,79.9 L386.5,87.8 L387.0,95.1 L387.5,101.8 L388.0,107.9 L388.5,113.5 L389.0,118.5 L389.5,123.0 L390.0,127.1 L390.5,130.8 L391.0,134.1 L391.5,137.1 L392.0,139.8 L392.5,142.2 L393.0,144.3 L393.5,146.2 L394.0,147.8 L394.5,149.3 L395.0,150.5 L395.5,151.6 L396.0,152.6 L396.5,153.5 L397.0,154.3 L397.5,155.0 L398.0,155.6 L398.5,156.1 L399.0,156.4 L399.5,156.8 L400.0,157.2 L400.5,157.6 L401.0,158.0 L401.5,158.5 L402.0,158.8 L402.5,159.2 L403.0,159.5 L403.5,159.9 L404.0,160.1 L404.5,160.4 L405.0,160.5 L405.5,160.7 L406.0,160.7 L406.5,160.7 L407.0,160.6 L407.5,160.4 L408.0,160.1 L408.5,159.8 L409.0,159.5 L409.5,159.3 L410.0,159.0 L410.5,158.7 L411.0,158.4 L411.5,158.0 L412.0,157.6 L412.5,157.2 L413.0,156.7 L413.5,156.3 L414.0,156.0 L414.5,155.6 L415.0,155.4 L415.5,155.2 L416.0,155.1 L416.5,155.1 L417.0,155.2 L417.5,155.5 L418.0,155.9 L418.5,156.3 L419.0,156.9 L419.5,157.5 L420.0,158.2 L420.5,158.8 L421.0,159.4 L421.5,160.0 L422.0,160.5 L422.5,161.0 L423.0,161.4 L423.5,161.8 L424.0,162.3 L424.5,162.7 L425.0,163.1 L425.5,163.5 L426.0,163.8 L426.5,164.2 L427.0,164.5 L427.5,164.8 L428.0,165.0 L428.5,165.2 L429.0,165.4 L429.5,165.6 L430.0,165.7 L430.5,165.9 L431.0,166.0 L431.5,166.2 L432.0,166.3 L432.5,166.4 L433.0,166.6 L433.5,166.7 L434.0,166.9 L434.5,167.0 L435.0,167.1 L435.5,167.3 L436.0,167.4 L436.5,167.5 L437.0,167.6 L437.5,167.8 L438.0,167.9 L438.5,168.0 L439.0,168.1 L439.5,168.2 L440.0,168.4 L440.5,168.5 L441.0,168.6 L441.5,168.8 L442.0,168.9 L442.5,169.1 L443.0,169.2 L443.5,169.4 L444.0,169.6 L444.5,169.7 L445.0,169.9 L445.5,170.1 L446.0,170.2 L446.5,170.4 L447.0,170.5 L447.5,170.6 L448.0,170.7 L448.5,170.8 L449.0,170.8 L449.5,170.8 L450.0,170.9 L450.5,170.9 L451.0,170.9 L451.5,171.0 L452.0,171.0 L452.5,171.0 L453.0,171.0 L453.5,171.1 L454.0,171.1 L454.5,171.1 L455.0,171.1 L455.5,171.1 L456.0,171.2 L456.5,171.2 L457.0,171.2 L457.5,171.2 L458.0,171.2 L458.5,171.3 L459.0,171.3 L459.5,171.3 L460.0,171.3 L460.5,171.3 L461.0,171.3 L461.5,171.3 L462.0,171.4 L462.5,171.4 L463.0,171.4 L463.5,171.4 L464.0,171.4 L464.5,171.4 L465.0,171.5 L465.5,171.5 L466.0,171.5 L466.5,171.5 L467.0,171.5 L467.5,171.5 L468.0,171.6 L468.5,171.6 L469.0,171.6 L469.5,171.6 L470.0,171.6 L470.5,171.6 L471.0,171.7 L471.5,171.7 L472.0,171.7 L472.5,171.7 L473.0,171.7 L473.5,171.8 L474.0,171.8 L474.5,171.8 L475.0,171.8 L475.5,171.8 L476.0,171.9 L476.5,171.9 L477.0,171.9 L477.5,171.9 L478.0,171.9 L478.5,171.9 L479.0,172.0 L479.5,172.0 L480.0,172.0 L480.5,172.0 L481.0,172.0 L481.5,172.0 L482.0,172.0 L482.5,172.1 L483.0,172.1 L483.5,172.1 L484.0,172.1 L484.5,172.1 L485.0,172.1 L485.5,172.1 L486.0,172.1 L486.5,172.2 L487.0,172.2 L487.5,172.2 L488.0,172.2 L488.5,172.2 L489.0,172.2 L489.5,172.2 L490.0,172.2 L490.5,172.2 L491.0,172.2 L491.5,172.2 L492.0,172.2 L492.5,172.2 L493.0,172.2 L493.5,172.2 L494.0,172.2 L494.5,172.2 L495.0,172.2 L495.5,172.2 L496.0,172.2 L496.5,172.2 L497.0,172.2 L497.5,172.3 L498.0,172.3 L498.5,172.3 L499.0,172.3 L499.5,172.3 L500.0,172.3 L500.5,172.3 L501.0,172.3 L501.5,172.3 L502.0,172.3 L502.5,172.3 L503.0,172.3 L503.5,172.3 L504.0,172.3 L504.5,172.3 L505.0,172.3 L505.5,172.3 L506.0,172.3 L506.5,172.3 L507.0,172.3 L507.5,172.3 L508.0,172.3 L508.5,172.3 L509.0,172.3 L509.5,172.3 L510.0,172.3 L510.5,172.3 L511.0,172.3 L511.5,172.3 L512.0,172.3 L512.5,172.3 L513.0,172.3 L513.5,172.3 L514.0,172.3 L514.5,172.3 L515.0,172.3 L515.5,172.3 L516.0,172.3 L516.5,172.3 L517.0,172.3 L517.5,172.3 L518.0,172.3 L518.5,172.3 L519.0,172.3 L519.5,172.3 L520.0,172.3 L520.5,172.3 L521.0,172.3 L521.5,172.3 L522.0,172.3 L522.5,172.3 L523.0,172.3 L523.5,172.3 L524.0,172.3 L524.5,172.3 L525.0,172.3 L525.5,172.3 L526.0,172.3 L526.5,172.3 L527.0,172.3 L527.5,172.3 L528.0,172.3 L528.5,172.3 L529.0,172.3 L529.5,172.3 L530.0,172.3 L530.5,172.3 L531.0,172.3 L531.5,172.3 L532.0,172.3 L532.5,172.3 L533.0,172.3 L533.5,172.3 L534.0,172.3 L534.5,172.3 L535.0,172.3 L535.5,172.3" fill="none" stroke="#000" stroke-width="2.5" stroke-linejoin="round"/>
<path d="M352.5,172.3 L353.0,172.3 L353.5,172.3 L354.0,172.3 L354.5,172.3 L355.0,172.3 L355.5,172.3 L356.0,172.3 L356.5,172.3 L357.0,172.3 L357.5,172.2 L358.0,172.2 L358.5,172.2 L359.0,172.2 L359.5,172.2 L360.0,172.1 L360.5,172.1 L361.0,172.1 L361.5,172.0 L362.0,172.0 L362.5,171.9 L363.0,171.9 L363.5,171.9 L364.0,171.8 L364.5,171.8 L365.0,171.7 L365.5,171.6 L366.0,171.6 L366.5,171.5 L367.0,171.5 L367.5,171.4 L368.0,171.3 L368.5,171.2 L369.0,171.1 L369.5,171.1 L370.0,171.0 L370.5,170.9 L371.0,170.8 L371.5,170.7 L372.0,170.6 L372.5,170.5 L373.0,170.4 L373.5,170.2 L374.0,170.1 L374.5,170.0 L375.0,169.8 L375.5,169.7 L376.0,169.6 L376.5,169.4 L377.0,169.2 L377.5,169.1 L378.0,168.9 L378.5,168.7 L379.0,168.5 L379.5,168.3 L380.0,168.1 L380.5,167.8 L381.0,167.6 L381.5,167.3 L382.0,167.0 L382.5,166.7 L383.0,166.4 L383.5,166.0 L384.0,165.7 L384.5,165.3 L385.0,164.9 L385.5,164.4 L386.0,164.0 L386.5,163.5 L387.0,163.0 L387.5,162.5 L388.0,161.9 L388.5,161.2 L389.0,160.5 L389.5,159.7 L390.0,158.9 L390.5,158.0 L391.0,157.0 L391.5,155.9 L392.0,154.9 L392.5,153.7 L393.0,152.6 L393.5,151.3 L394.0,150.1 L394.5,148.8 L395.0,147.4 L395.5,146.0 L396.0,144.5 L396.5,142.8 L397.0,141.0 L397.5,139.0 L398.0,136.8 L398.5,134.3 L399.0,131.6 L399.5,128.5 L400.0,125.1 L400.5,121.5 L401.0,117.5 L401.5,113.1 L402.0,108.3 L402.5,103.2 L403.0,97.7 L403.5,91.8 L404.0,85.6 L404.5,79.2 L405.0,72.6 L405.5,66.0 L406.0,59.7 L406.5,53.7 L407.0,48.5 L407.5,44.2 L408.0,41.1 L408.5,39.5 L409.0,39.3 L409.5,40.4 L410.0,42.7 L410.5,46.0 L411.0,50.2 L411.5,55.1 L412.0,60.5 L412.5,66.3 L413.0,72.2 L413.5,78.2 L414.0,84.0 L414.5,89.7 L415.0,95.2 L415.5,100.3 L416.0,105.2 L416.5,109.8 L417.0,114.1 L417.5,118.0 L418.0,121.7 L418.5,125.1 L419.0,128.2 L419.5,131.1 L420.0,133.8 L420.5,136.3 L421.0,138.6 L421.5,140.6 L422.0,142.6 L422.5,144.3 L423.0,145.9 L423.5,147.3 L424.0,148.5 L424.5,149.6 L425.0,150.6 L425.5,151.5 L426.0,152.3 L426.5,153.2 L427.0,153.9 L427.5,154.6 L428.0,155.3 L428.5,155.9 L429.0,156.5 L429.5,157.0 L430.0,157.5 L430.5,157.9 L431.0,158.3 L431.5,158.7 L432.0,159.0 L432.5,159.3 L433.0,159.5 L433.5,159.6 L434.0,159.7 L434.5,159.7 L435.0,159.8 L435.5,159.8 L436.0,159.8 L436.5,159.8 L437.0,159.8 L437.5,159.7 L438.0,159.6 L438.5,159.5 L439.0,159.4 L439.5,159.3 L440.0,159.2 L440.5,159.1 L441.0,159.0 L441.5,159.0 L442.0,159.0 L442.5,159.0 L443.0,159.1 L443.5,159.3 L444.0,159.4 L444.5,159.6 L445.0,159.7 L445.5,159.9 L446.0,160.0 L446.5,160.1 L447.0,160.2 L447.5,160.4 L448.0,160.5 L448.5,160.6 L449.0,160.7 L449.5,160.8 L450.0,160.9 L450.5,160.9 L451.0,160.9 L451.5,160.9 L452.0,160.7 L452.5,160.5 L453.0,160.3 L453.5,160.1 L454.0,159.8 L454.5,159.5 L455.0,159.1 L455.5,158.8 L456.0,158.5 L456.5,158.2 L457.0,157.8 L457.5,157.5 L458.0,157.1 L458.5,156.6 L459.0,156.1 L459.5,155.5 L460.0,154.8 L460.5,154.0 L461.0,152.8 L461.5,151.0 L462.0,148.8 L462.5,146.6 L463.0,144.4 L463.5,142.5 L464.0,141.2 L464.5,140.3 L465.0,139.3 L465.5,138.5 L466.0,137.7 L466.5,136.9 L467.0,136.3 L467.5,135.9 L468.0,135.5 L468.5,135.4 L469.0,135.5 L469.5,136.1 L470.0,137.0 L470.5,138.2 L471.0,139.6 L471.5,141.1 L472.0,142.6 L472.5,144.0 L473.0,145.4 L473.5,147.0 L474.0,148.6 L474.5,150.3 L475.0,151.9 L475.5,153.3 L476.0,154.5 L476.5,155.5 L477.0,156.5 L477.5,157.4 L478.0,158.2 L478.5,159.0 L479.0,159.7 L479.5,160.4 L480.0,161.0 L480.5,161.6 L481.0,162.1 L481.5,162.6 L482.0,163.1 L482.5,163.6 L483.0,164.0 L483.5,164.4 L484.0,164.8 L484.5,165.2 L485.0,165.5 L485.5,165.8 L486.0,166.1 L486.5,166.5 L487.0,166.8 L487.5,167.1 L488.0,167.4 L488.5,167.6 L489.0,167.9 L489.5,168.1 L490.0,168.4 L490.5,168.6 L491.0,168.7 L491.5,168.9 L492.0,169.0 L492.5,169.1 L493.0,169.2 L493.5,169.3 L494.0,169.4 L494.5,169.5 L495.0,169.6 L495.5,169.7 L496.0,169.7 L496.5,169.8 L497.0,169.9 L497.5,170.0 L498.0,170.1 L498.5,170.1 L499.0,170.2 L499.5,170.3 L500.0,170.4 L500.5,170.4 L501.0,170.5 L501.5,170.6 L502.0,170.6 L502.5,170.7 L503.0,170.8 L503.5,170.8 L504.0,170.9 L504.5,170.9 L505.0,171.0 L505.5,171.1 L506.0,171.1 L506.5,171.2 L507.0,171.2 L507.5,171.3 L508.0,171.3 L508.5,171.3 L509.0,171.4 L509.5,171.4 L510.0,171.5 L510.5,171.5 L511.0,171.5 L511.5,171.6 L512.0,171.6 L512.5,171.7 L513.0,171.7 L513.5,171.7 L514.0,171.7 L514.5,171.8 L515.0,171.8 L515.5,171.8 L516.0,171.8 L516.5,171.9 L517.0,171.9 L517.5,171.9 L518.0,171.9 L518.5,172.0 L519.0,172.0 L519.5,172.0 L520.0,172.0 L520.5,172.0 L521.0,172.0 L521.5,172.0 L522.0,172.1 L522.5,172.1 L523.0,172.1 L523.5,172.1 L524.0,172.1 L524.5,172.1 L525.0,172.1 L525.5,172.1 L526.0,172.2 L526.5,172.2 L527.0,172.2 L527.5,172.2 L528.0,172.2 L528.5,172.2 L529.0,172.2 L529.5,172.2 L530.0,172.2 L530.5,172.2 L531.0,172.2 L531.5,172.3 L532.0,172.3 L532.5,172.3 L533.0,172.3 L533.5,172.3 L534.0,172.3 L534.5,172.3 L535.0,172.3 L535.5,172.3" fill="none" stroke="#ff0000" stroke-width="2.5" stroke-linejoin="round"/>
<path d="M345.0,172.3 L345.5,172.3 L346.0,172.2 L346.5,172.2 L347.0,172.2 L347.5,172.1 L348.0,172.1 L348.5,172.0 L349.0,172.0 L349.5,172.0 L350.0,171.9 L350.5,171.8 L351.0,171.8 L351.5,171.7 L352.0,171.7 L352.5,171.6 L353.0,171.5 L353.5,171.5 L354.0,171.4 L354.5,171.3 L355.0,171.2 L355.5,171.2 L356.0,171.1 L356.5,171.0 L357.0,170.9 L357.5,170.8 L358.0,170.7 L358.5,170.6 L359.0,170.5 L359.5,170.4 L360.0,170.3 L360.5,170.2 L361.0,170.1 L361.5,169.9 L362.0,169.8 L362.5,169.7 L363.0,169.6 L363.5,169.4 L364.0,169.3 L364.5,169.1 L365.0,169.0 L365.5,168.8 L366.0,168.6 L366.5,168.4 L367.0,168.1 L367.5,167.8 L368.0,167.5 L368.5,167.2 L369.0,166.8 L369.5,166.4 L370.0,166.0 L370.5,165.6 L371.0,165.2 L371.5,164.8 L372.0,164.4 L372.5,164.0 L373.0,163.6 L373.5,163.2 L374.0,162.8 L374.5,162.5 L375.0,162.1 L375.5,161.8 L376.0,161.5 L376.5,161.1 L377.0,160.7 L377.5,160.3 L378.0,160.0 L378.5,159.6 L379.0,159.2 L379.5,158.8 L380.0,158.3 L380.5,157.9 L381.0,157.5 L381.5,157.1 L382.0,156.7 L382.5,156.3 L383.0,156.0 L383.5,155.7 L384.0,155.4 L384.5,155.1 L385.0,154.7 L385.5,154.3 L386.0,153.9 L386.5,153.4 L387.0,152.9 L387.5,152.4 L388.0,151.8 L388.5,151.1 L389.0,150.3 L389.5,149.5 L390.0,148.5 L390.5,147.4 L391.0,146.2 L391.5,144.8 L392.0,143.2 L392.5,141.3 L393.0,139.1 L393.5,136.7 L394.0,134.0 L394.5,131.1 L395.0,127.9 L395.5,124.5 L396.0,120.8 L396.5,116.8 L397.0,112.4 L397.5,107.6 L398.0,102.5 L398.5,97.0 L399.0,91.0 L399.5,84.8 L400.0,78.2 L400.5,71.5 L401.0,64.6 L401.5,57.9 L402.0,51.6 L402.5,45.8 L403.0,41.0 L403.5,37.2 L404.0,34.9 L404.5,34.0 L405.0,34.5 L405.5,35.9 L406.0,38.4 L406.5,41.7 L407.0,45.7 L407.5,50.2 L408.0,55.0 L408.5,60.1 L409.0,65.2 L409.5,70.4 L410.0,75.5 L410.5,80.7 L411.0,86.0 L411.5,91.6 L412.0,97.5 L412.5,103.6 L413.0,109.5 L413.5,115.0 L414.0,119.9 L414.5,123.8 L415.0,127.0 L415.5,129.8 L416.0,132.3 L416.5,134.7 L417.0,136.9 L417.5,138.9 L418.0,140.8 L418.5,142.7 L419.0,144.4 L419.5,146.0 L420.0,147.4 L420.5,148.8 L421.0,150.0 L421.5,151.1 L422.0,152.1 L422.5,153.1 L423.0,154.0 L423.5,154.8 L424.0,155.5 L424.5,156.1 L425.0,156.7 L425.5,157.2 L426.0,157.7 L426.5,158.1 L427.0,158.5 L427.5,158.8 L428.0,159.2 L428.5,159.5 L429.0,159.9 L429.5,160.2 L430.0,160.5 L430.5,160.9 L431.0,161.2 L431.5,161.4 L432.0,161.7 L432.5,161.9 L433.0,162.1 L433.5,162.2 L434.0,162.3 L434.5,162.4 L435.0,162.5 L435.5,162.5 L436.0,162.5 L436.5,162.5 L437.0,162.5 L437.5,162.4 L438.0,162.4 L438.5,162.3 L439.0,162.3 L439.5,162.2 L440.0,162.2 L440.5,162.1 L441.0,162.1 L441.5,162.1 L442.0,162.0 L442.5,162.0 L443.0,162.0 L443.5,161.9 L444.0,161.9 L444.5,161.8 L445.0,161.8 L445.5,161.7 L446.0,161.7 L446.5,161.6 L447.0,161.5 L447.5,161.4 L448.0,161.2 L448.5,161.1 L449.0,160.9 L449.5,160.7 L450.0,160.4 L450.5,160.1 L451.0,159.7 L451.5,159.2 L452.0,158.8 L452.5,158.3 L453.0,157.8 L453.5,157.4 L454.0,156.9 L454.5,156.5 L455.0,156.1 L455.5,155.7 L456.0,155.3 L456.5,155.0 L457.0,154.6 L457.5,154.2 L458.0,153.8 L458.5,153.5 L459.0,153.1 L459.5,152.7 L460.0,152.3 L460.5,151.8 L461.0,151.3 L461.5,151.1 L462.0,151.4 L462.5,152.9 L463.0,155.0 L463.5,157.1 L464.0,158.6 L464.5,159.5 L465.0,160.3 L465.5,161.1 L466.0,161.8 L466.5,162.4 L467.0,162.9 L467.5,163.4 L468.0,163.9 L468.5,164.3 L469.0,164.6 L469.5,164.9 L470.0,165.2 L470.5,165.5 L471.0,165.8 L471.5,166.1 L472.0,166.3 L472.5,166.6 L473.0,166.8 L473.5,167.0 L474.0,167.2 L474.5,167.4 L475.0,167.6 L475.5,167.8 L476.0,167.9 L476.5,168.1 L477.0,168.2 L477.5,168.3 L478.0,168.4 L478.5,168.5 L479.0,168.6 L479.5,168.7 L480.0,168.8 L480.5,168.9 L481.0,169.0 L481.5,169.1 L482.0,169.2 L482.5,169.3 L483.0,169.3 L483.5,169.4 L484.0,169.5 L484.5,169.6 L485.0,169.6 L485.5,169.7 L486.0,169.7 L486.5,169.8 L487.0,169.8 L487.5,169.9 L488.0,169.9 L488.5,169.9 L489.0,170.0 L489.5,170.0 L490.0,170.0 L490.5,170.0 L491.0,170.0 L491.5,170.0 L492.0,170.0 L492.5,170.0 L493.0,169.9 L493.5,169.9 L494.0,169.9 L494.5,169.8 L495.0,169.8 L495.5,169.7 L496.0,169.7 L496.5,169.7 L497.0,169.6 L497.5,169.6 L498.0,169.5 L498.5,169.5 L499.0,169.4 L499.5,169.4 L500.0,169.4 L500.5,169.3 L501.0,169.3 L501.5,169.3 L502.0,169.3 L502.5,169.3 L503.0,169.3 L503.5,169.3 L504.0,169.4 L504.5,169.4 L505.0,169.5 L505.5,169.6 L506.0,169.6 L506.5,169.7 L507.0,169.8 L507.5,170.0 L508.0,170.1 L508.5,170.2 L509.0,170.3 L509.5,170.5 L510.0,170.6 L510.5,170.7 L511.0,170.8 L511.5,170.9 L512.0,171.1 L512.5,171.2 L513.0,171.3 L513.5,171.3 L514.0,171.4 L514.5,171.5 L515.0,171.5 L515.5,171.5 L516.0,171.6 L516.5,171.6 L517.0,171.6 L517.5,171.7 L518.0,171.7 L518.5,171.7 L519.0,171.7 L519.5,171.8 L520.0,171.8 L520.5,171.8 L521.0,171.9 L521.5,171.9 L522.0,171.9 L522.5,171.9 L523.0,172.0 L523.5,172.0 L524.0,172.0 L524.5,172.0 L525.0,172.0 L525.5,172.1 L526.0,172.1 L526.5,172.1 L527.0,172.1 L527.5,172.1 L528.0,172.2 L528.5,172.2 L529.0,172.2 L529.5,172.2 L530.0,172.2 L530.5,172.2 L531.0,172.2 L531.5,172.2 L532.0,172.3 L532.5,172.3 L533.0,172.3 L533.5,172.3 L534.0,172.3 L534.5,172.3 L535.0,172.3 L535.5,172.3" fill="none" stroke="#10ec10" stroke-width="2.5" stroke-linejoin="round"/>
<path d="M352.5,172.3 L353.0,172.2 L353.5,172.2 L354.0,172.1 L354.5,172.1 L355.0,172.0 L355.5,171.9 L356.0,171.9 L356.5,171.8 L357.0,171.7 L357.5,171.6 L358.0,171.6 L358.5,171.5 L359.0,171.4 L359.5,171.3 L360.0,171.2 L360.5,171.2 L361.0,171.1 L361.5,171.0 L362.0,170.9 L362.5,170.8 L363.0,170.7 L363.5,170.6 L364.0,170.5 L364.5,170.4 L365.0,170.3 L365.5,170.2 L366.0,170.1 L366.5,170.0 L367.0,169.8 L367.5,169.7 L368.0,169.6 L368.5,169.4 L369.0,169.3 L369.5,169.1 L370.0,169.0 L370.5,168.8 L371.0,168.6 L371.5,168.5 L372.0,168.3 L372.5,168.1 L373.0,167.9 L373.5,167.7 L374.0,167.5 L374.5,167.3 L375.0,167.1 L375.5,166.9 L376.0,166.7 L376.5,166.5 L377.0,166.2 L377.5,166.0 L378.0,165.8 L378.5,165.5 L379.0,165.2 L379.5,164.9 L380.0,164.6 L380.5,164.3 L381.0,164.0 L381.5,163.6 L382.0,163.2 L382.5,162.8 L383.0,162.4 L383.5,161.9 L384.0,161.5 L384.5,160.9 L385.0,160.4 L385.5,159.8 L386.0,159.2 L386.5,158.5 L387.0,157.8 L387.5,157.0 L388.0,156.2 L388.5,155.4 L389.0,154.5 L389.5,153.5 L390.0,152.5 L390.5,151.3 L391.0,150.1 L391.5,148.7 L392.0,147.2 L392.5,145.7 L393.0,143.9 L393.5,142.1 L394.0,139.9 L394.5,137.5 L395.0,134.7 L395.5,131.6 L396.0,128.1 L396.5,124.3 L397.0,120.1 L397.5,115.5 L398.0,110.4 L398.5,105.0 L399.0,99.1 L399.5,92.8 L400.0,86.2 L400.5,79.3 L401.0,72.3 L401.5,65.3 L402.0,58.7 L402.5,52.6 L403.0,47.5 L403.5,43.5 L404.0,41.0 L404.5,40.1 L405.0,40.6 L405.5,42.3 L406.0,44.9 L406.5,48.5 L407.0,52.8 L407.5,57.6 L408.0,62.9 L408.5,68.4 L409.0,74.0 L409.5,79.6 L410.0,85.1 L410.5,90.4 L411.0,95.4 L411.5,100.2 L412.0,104.8 L412.5,109.0 L413.0,113.0 L413.5,116.7 L414.0,120.1 L414.5,123.3 L415.0,126.2 L415.5,129.0 L416.0,131.6 L416.5,133.9 L417.0,136.1 L417.5,138.2 L418.0,140.1 L418.5,142.0 L419.0,143.7 L419.5,145.3 L420.0,146.8 L420.5,148.2 L421.0,149.4 L421.5,150.5 L422.0,151.4 L422.5,152.3 L423.0,153.1 L423.5,153.8 L424.0,154.4 L424.5,155.0 L425.0,155.4 L425.5,155.9 L426.0,156.2 L426.5,156.6 L427.0,156.7 L427.5,156.5 L428.0,156.2 L428.5,155.7 L429.0,155.1 L429.5,154.4 L430.0,153.6 L430.5,152.9 L431.0,152.3 L431.5,151.7 L432.0,151.2 L432.5,150.6 L433.0,149.9 L433.5,149.2 L434.0,148.5 L434.5,147.9 L435.0,147.3 L435.5,146.8 L436.0,146.5 L436.5,146.3 L437.0,146.4 L437.5,146.6 L438.0,147.1 L438.5,147.6 L439.0,148.3 L439.5,149.1 L440.0,149.9 L440.5,150.7 L441.0,151.5 L441.5,152.2 L442.0,152.8 L442.5,153.4 L443.0,153.9 L443.5,154.5 L444.0,155.1 L444.5,155.6 L445.0,156.2 L445.5,156.7 L446.0,157.2 L446.5,157.6 L447.0,158.0 L447.5,158.4 L448.0,158.7 L448.5,159.0 L449.0,159.4 L449.5,159.7 L450.0,160.0 L450.5,160.2 L451.0,160.5 L451.5,160.8 L452.0,161.0 L452.5,161.2 L453.0,161.4 L453.5,161.5 L454.0,161.7 L454.5,161.8 L455.0,161.8 L455.5,161.7 L456.0,161.5 L456.5,161.2 L457.0,160.8 L457.5,160.3 L458.0,159.7 L458.5,159.2 L459.0,158.6 L459.5,158.0 L460.0,157.4 L460.5,156.7 L461.0,155.9 L461.5,154.9 L462.0,153.9 L462.5,152.7 L463.0,151.6 L463.5,150.5 L464.0,149.5 L464.5,148.6 L465.0,147.9 L465.5,147.3 L466.0,147.0 L466.5,147.0 L467.0,147.4 L467.5,148.0 L468.0,148.9 L468.5,149.9 L469.0,151.0 L469.5,152.2 L470.0,153.3 L470.5,154.3 L471.0,155.1 L471.5,155.8 L472.0,156.5 L472.5,157.2 L473.0,157.9 L473.5,158.5 L474.0,159.2 L474.5,159.8 L475.0,160.4 L475.5,161.0 L476.0,161.5 L476.5,162.0 L477.0,162.5 L477.5,162.9 L478.0,163.3 L478.5,163.6 L479.0,164.0 L479.5,164.3 L480.0,164.6 L480.5,164.9 L481.0,165.2 L481.5,165.4 L482.0,165.7 L482.5,165.9 L483.0,166.2 L483.5,166.4 L484.0,166.6 L484.5,166.8 L485.0,167.0 L485.5,167.2 L486.0,167.4 L486.5,167.6 L487.0,167.7 L487.5,167.9 L488.0,168.1 L488.5,168.3 L489.0,168.4 L489.5,168.6 L490.0,168.8 L490.5,168.9 L491.0,169.1 L491.5,169.3 L492.0,169.4 L492.5,169.6 L493.0,169.7 L493.5,169.8 L494.0,170.0 L494.5,170.1 L495.0,170.2 L495.5,170.3 L496.0,170.4 L496.5,170.5 L497.0,170.6 L497.5,170.7 L498.0,170.8 L498.5,170.9 L499.0,170.9 L499.5,171.0 L500.0,171.0 L500.5,171.0 L501.0,171.1 L501.5,171.1 L502.0,171.1 L502.5,171.2 L503.0,171.2 L503.5,171.2 L504.0,171.3 L504.5,171.3 L505.0,171.3 L505.5,171.4 L506.0,171.4 L506.5,171.4 L507.0,171.4 L507.5,171.5 L508.0,171.5 L508.5,171.5 L509.0,171.5 L509.5,171.6 L510.0,171.6 L510.5,171.6 L511.0,171.6 L511.5,171.7 L512.0,171.7 L512.5,171.7 L513.0,171.7 L513.5,171.8 L514.0,171.8 L514.5,171.8 L515.0,171.8 L515.5,171.8 L516.0,171.9 L516.5,171.9 L517.0,171.9 L517.5,171.9 L518.0,171.9 L518.5,172.0 L519.0,172.0 L519.5,172.0 L520.0,172.0 L520.5,172.0 L521.0,172.0 L521.5,172.0 L522.0,172.1 L522.5,172.1 L523.0,172.1 L523.5,172.1 L524.0,172.1 L524.5,172.1 L525.0,172.1 L525.5,172.2" fill="none" stroke="#0000ff" stroke-width="2.5" stroke-linejoin="round"/>
</g>
<line x1="381.4" y1="21.5" x2="381.4" y2="173" stroke="#000" stroke-width="1.9" stroke-dasharray="7,4.4"/>
<line x1="404.9" y1="40.8" x2="404.9" y2="173" stroke="#000" stroke-width="1.9" stroke-dasharray="9,7.6"/>
<line x1="408.6" y1="40.8" x2="408.6" y2="173" stroke="#000" stroke-width="1.9" stroke-dasharray="9,7.6"/>
<line x1="461.6" y1="152" x2="461.6" y2="173" stroke="#10ec10" stroke-width="1.6" stroke-dasharray="5,3"/>
<line x1="466.3" y1="153" x2="466.3" y2="173" stroke="#0000ff" stroke-width="1.6" stroke-dasharray="5,3"/>
<line x1="469.2" y1="159" x2="469.2" y2="173" stroke="#ff0000" stroke-width="1.6" stroke-dasharray="4,3"/>
<rect x="311.8" y="11.2" width="223.99999999999994" height="162.60000000000002" fill="none" stroke="#000" stroke-width="2.2"/>
<line x1="311.8" y1="173.8" x2="311.8" y2="177.3" stroke="#000" stroke-width="1.6"/>
<line x1="339.8" y1="173.8" x2="339.8" y2="171.8" stroke="#000" stroke-width="1.4"/>
<line x1="367.8" y1="173.8" x2="367.8" y2="177.3" stroke="#000" stroke-width="1.6"/>
<line x1="395.8" y1="173.8" x2="395.8" y2="171.8" stroke="#000" stroke-width="1.4"/>
<line x1="423.8" y1="173.8" x2="423.8" y2="177.3" stroke="#000" stroke-width="1.6"/>
<line x1="451.8" y1="173.8" x2="451.8" y2="171.8" stroke="#000" stroke-width="1.4"/>
<line x1="479.8" y1="173.8" x2="479.8" y2="177.3" stroke="#000" stroke-width="1.6"/>
<line x1="507.8" y1="173.8" x2="507.8" y2="171.8" stroke="#000" stroke-width="1.4"/>
<line x1="535.8" y1="173.8" x2="535.8" y2="177.3" stroke="#000" stroke-width="1.6"/>
<text x="311.8" y="191" font-size="14" font-weight="bold" text-anchor="middle">390</text>
<text x="367.8" y="191" font-size="14" font-weight="bold" text-anchor="middle">393</text>
<text x="423.8" y="191" font-size="14" font-weight="bold" text-anchor="middle">396</text>
<text x="479.8" y="191" font-size="14" font-weight="bold" text-anchor="middle">399</text>
<text x="535.8" y="191" font-size="14" font-weight="bold" text-anchor="middle">402</text>
<text x="354" y="205" font-size="14.4" font-weight="bold">Excitation energy (eV)</text>
<text transform="translate(304.6,153.5) rotate(-90)" font-size="14.4" font-weight="bold">XAS intensity (a. u.)</text>
<text transform="translate(268.4,20) scale(1.08,1)" font-size="17.6" font-weight="bold">(b)</text>
<line x1="451.2" y1="30.5" x2="474.1" y2="30.5" stroke="#000" stroke-width="2.6"/>
<text x="476.2" y="34.0" font-size="9.7" font-weight="bold">CTF</text>
<line x1="451.2" y1="42.6" x2="474.1" y2="42.6" stroke="#ff0000" stroke-width="2.6"/>
<text x="476.2" y="46.1" font-size="9.7" font-weight="bold">CTF-Fe</text>
<line x1="451.2" y1="54.7" x2="474.1" y2="54.7" stroke="#10ec10" stroke-width="2.6"/>
<text x="476.2" y="58.2" font-size="9.7" font-weight="bold">CTF-Co</text>
<line x1="451.2" y1="66.8" x2="474.1" y2="66.8" stroke="#0000ff" stroke-width="2.6"/>
<text x="476.2" y="70.3" font-size="9.7" font-weight="bold">CTF-Ni</text>
<text x="338.2" y="65.5" font-size="10" font-weight="bold">1s</text>
<path d="M349,62.5 L357.8,62.5 M355.3,60.8 L357.9,62.5 L355.3,64.2" fill="none" stroke="#333" stroke-width="0.8"/>
<text x="360.6" y="65.2" font-size="10" font-weight="bold">π<tspan font-size="8.5" dy="-1.6" dx="0.4">*</tspan></text>
<line x1="400" y1="67.3" x2="373.8" y2="62.2" stroke="#999" stroke-width="0.8" marker-end="url(#ah2)"/>
<line x1="400" y1="74.5" x2="367.2" y2="66.2" stroke="#999" stroke-width="0.8" marker-end="url(#ah2)"/>
<line x1="374" y1="80.9" x2="357.5" y2="67.1" stroke="#999" stroke-width="0.8" marker-end="url(#ah2)"/>
<text x="473.5" y="128.7" font-size="9.8" font-weight="bold">N–Fe</text>
<text x="437" y="143.3" font-size="9.8" font-weight="bold">N–Co</text>
<text x="486.8" y="161.8" font-size="9.8" font-weight="bold">N–Ni</text>
<line x1="472.4" y1="136.2" x2="482.2" y2="130" stroke="#777" stroke-width="0.55" marker-end="url(#ah)"/>
<line x1="460.5" y1="169" x2="449.5" y2="145.9" stroke="#777" stroke-width="0.55" marker-end="url(#ah)"/>
<line x1="485.5" y1="158.8" x2="481.3" y2="160.6" stroke="#777" stroke-width="0.55" marker-end="url(#ah)"/>
<g clip-path="url(#cc)">
<path d="M37.8,338.0 L38.2,335.5 L38.6,333.2 L39.0,331.1 L39.4,329.1 L39.8,327.4 L40.2,326.0 L40.6,324.9 L41.0,324.2 L41.4,324.6 L41.8,325.9 L42.2,327.6 L42.6,329.2 L43.0,330.0 L43.4,328.6 L43.8,324.2 L44.2,317.6 L44.6,309.3 L45.0,300.0 L45.4,284.1 L45.8,262.9 L46.2,246.6 L46.6,233.3 L47.0,223.8 L47.4,222.7 L47.8,229.8 L48.2,241.0 L48.6,253.0 L49.0,266.7 L49.4,281.4 L49.8,294.7 L50.2,304.8 L50.6,314.2 L51.0,322.8 L51.4,330.0 L51.8,335.1 L52.2,337.3 L52.6,337.3 L53.0,336.3 L53.4,334.4 L53.8,331.7 L54.2,328.2 L54.6,324.1 L55.0,319.6 L55.4,314.8 L55.8,310.0 L56.2,304.6 L56.6,298.5 L57.0,292.9 L57.4,288.7 L57.8,286.4 L58.2,284.7 L58.6,283.6 L59.0,283.1 L59.4,283.0 L59.8,283.4 L60.2,284.5 L60.6,286.2 L61.0,288.2 L61.4,290.7 L61.8,295.1 L62.2,301.2 L62.6,308.2 L63.0,316.3 L63.4,326.8 L63.8,337.5 L64.2,346.0 L64.6,350.5 L65.0,354.2 L65.4,357.5 L65.8,360.4 L66.2,362.5 L66.6,363.9 L67.0,364.3 L67.4,363.8 L67.8,362.8 L68.2,361.7 L68.6,360.4 L69.0,359.2 L69.4,357.9 L69.8,356.6 L70.2,355.4 L70.6,354.0 L71.0,352.5 L71.4,351.1 L71.8,349.7 L72.2,348.5 L72.6,347.5 L73.0,346.9 L73.4,346.9 L73.8,347.5 L74.2,348.6 L74.6,350.0 L75.0,351.5 L75.4,352.9 L75.8,354.1 L76.2,354.8 L76.6,355.1 L77.0,354.6 L77.4,353.7 L77.8,352.5 L78.2,351.1 L78.6,349.5 L79.0,347.9 L79.4,346.1 L79.8,344.4 L80.2,342.8 L80.6,341.3 L81.0,340.1 L81.4,338.9 L81.8,337.8 L82.2,336.8 L82.6,335.7 L83.0,334.7 L83.4,333.6 L83.8,332.4 L84.2,331.1 L84.6,329.7 L85.0,327.9 L85.4,325.4 L85.8,322.5 L86.2,319.4 L86.6,316.5 L87.0,314.0 L87.4,312.2 L87.8,311.2 L88.2,310.6 L88.6,310.2 L89.0,309.9 L89.4,309.7 L89.8,309.5 L90.2,309.2 L90.6,308.7 L91.0,308.1 L91.4,307.6 L91.8,307.0 L92.2,306.4 L92.6,305.7 L93.0,305.0 L93.4,304.3 L93.8,303.5 L94.2,302.5 L94.6,301.5 L95.0,299.7 L95.4,297.3 L95.8,294.7 L96.2,292.4 L96.6,290.7 L97.0,289.7 L97.4,289.2 L97.8,289.0 L98.2,289.0 L98.6,289.0 L99.0,288.7 L99.4,288.0 L99.8,286.7 L100.2,284.7 L100.6,282.1 L101.0,279.1 L101.4,275.8 L101.8,272.4 L102.2,269.0 L102.6,265.9 L103.0,263.0 L103.4,260.5 L103.8,258.0 L104.2,255.6 L104.6,253.2 L105.0,250.9 L105.4,248.8 L105.8,247.0 L106.2,245.4 L106.6,244.2 L107.0,243.3 L107.4,242.5 L107.8,241.8 L108.2,241.1 L108.6,240.5 L109.0,239.8 L109.4,238.9 L109.8,237.9 L110.2,236.7 L110.6,235.4 L111.0,234.0 L111.4,232.5 L111.8,231.2 L112.2,229.9 L112.6,228.8 L113.0,228.0 L113.4,227.4 L113.8,226.8 L114.2,226.3 L114.6,225.9 L115.0,225.6 L115.4,225.3 L115.8,225.1 L116.2,224.9 L116.6,224.9 L117.0,225.0 L117.4,225.2 L117.8,225.5 L118.2,225.9 L118.6,226.4 L119.0,227.0 L119.4,227.6 L119.8,228.4 L120.2,229.8 L120.6,231.6 L121.0,233.9 L121.4,236.4 L121.8,239.0 L122.2,241.8 L122.6,244.5 L123.0,247.0 L123.4,249.4 L123.8,251.8 L124.2,254.3 L124.6,256.9 L125.0,259.5 L125.4,262.3 L125.8,265.1 L126.2,268.2 L126.6,271.5 L127.0,275.1 L127.4,279.0 L127.8,283.0 L128.2,287.2 L128.6,291.4 L129.0,295.7 L129.4,299.9 L129.8,304.1 L130.2,308.6 L130.6,313.1 L131.0,317.3 L131.4,320.8 L131.8,323.8 L132.2,326.6 L132.6,329.2 L133.0,331.7 L133.4,334.2 L133.8,336.7 L134.2,339.4 L134.6,342.2 L135.0,345.0 L135.4,347.8 L135.8,350.5 L136.2,353.0 L136.6,355.2 L137.0,357.4 L137.4,359.6 L137.8,361.6 L138.2,363.6 L138.6,365.4 L139.0,367.1 L139.4,368.5 L139.8,369.8 L140.2,370.8 L140.6,371.7 L141.0,372.7 L141.4,373.6 L141.8,374.4 L142.2,375.2 L142.6,375.9 L143.0,376.6 L143.4,377.2 L143.8,377.7 L144.2,378.1 L144.6,378.5 L145.0,378.8 L145.4,379.2 L145.8,379.6 L146.2,379.9 L146.6,380.3 L147.0,380.6 L147.4,381.0 L147.8,381.3 L148.2,381.6 L148.6,381.9 L149.0,382.2 L149.4,382.5 L149.8,382.7 L150.2,382.9 L150.6,383.1 L151.0,383.3 L151.4,383.5 L151.8,383.6 L152.2,383.7 L152.6,383.9 L153.0,384.0 L153.4,384.2 L153.8,384.3 L154.2,384.4 L154.6,384.6 L155.0,384.7 L155.4,384.8 L155.8,384.9 L156.2,385.1 L156.6,385.2 L157.0,385.3 L157.4,385.4 L157.8,385.5 L158.2,385.6 L158.6,385.7 L159.0,385.8 L159.4,385.9 L159.8,386.0 L160.2,386.0 L160.6,386.1 L161.0,386.2 L161.4,386.3 L161.8,386.4 L162.2,386.4 L162.6,386.5 L163.0,386.6 L163.4,386.7 L163.8,386.8 L164.2,386.8 L164.6,386.9 L165.0,387.0 L165.4,387.1 L165.8,387.1 L166.2,387.2 L166.6,387.3 L167.0,387.3 L167.4,387.4 L167.8,387.4 L168.2,387.5 L168.6,387.6 L169.0,387.6 L169.4,387.6 L169.8,387.7 L170.2,387.7 L170.6,387.8 L171.0,387.8 L171.4,387.8 L171.8,387.9 L172.2,387.9 L172.6,387.9 L173.0,388.0 L173.4,388.0 L173.8,388.0 L174.2,388.1 L174.6,388.1 L175.0,388.1 L175.4,388.2 L175.8,388.2 L176.2,388.2 L176.6,388.2 L177.0,388.3 L177.4,388.3 L177.8,388.3 L178.2,388.4 L178.6,388.4 L179.0,388.4 L179.4,388.5 L179.8,388.5 L180.2,388.5 L180.6,388.6 L181.0,388.6 L181.4,388.6 L181.8,388.7 L182.2,388.7 L182.6,388.7 L183.0,388.8 L183.4,388.8 L183.8,388.8 L184.2,388.8 L184.6,388.9 L185.0,388.9 L185.4,388.9 L185.8,389.0 L186.2,389.0 L186.6,389.0 L187.0,389.1 L187.4,389.1 L187.8,389.1 L188.2,389.1 L188.6,389.2 L189.0,389.2 L189.4,389.2 L189.8,389.3 L190.2,389.3 L190.6,389.3 L191.0,389.3 L191.4,389.4 L191.8,389.4 L192.2,389.4 L192.6,389.4 L193.0,389.5 L193.4,389.5 L193.8,389.5 L194.2,389.5 L194.6,389.6 L195.0,389.6 L195.4,389.6 L195.8,389.6 L196.2,389.7 L196.6,389.7 L197.0,389.7 L197.4,389.7 L197.8,389.8 L198.2,389.8 L198.6,389.8 L199.0,389.8 L199.4,389.9 L199.8,389.9 L200.2,389.9 L200.6,389.9 L201.0,390.0 L201.4,390.0 L201.8,390.0 L202.2,390.0 L202.6,390.0 L203.0,390.1 L203.4,390.1 L203.8,390.1 L204.2,390.1 L204.6,390.1 L205.0,390.2 L205.4,390.2 L205.8,390.2 L206.2,390.2 L206.6,390.2 L207.0,390.3 L207.4,390.3 L207.8,390.3 L208.2,390.3 L208.6,390.3 L209.0,390.3 L209.4,390.4 L209.8,390.4 L210.2,390.4 L210.6,390.4 L211.0,390.4 L211.4,390.4 L211.8,390.5 L212.2,390.5 L212.6,390.5 L213.0,390.5 L213.4,390.5 L213.8,390.5 L214.2,390.6 L214.6,390.6 L215.0,390.6 L215.4,390.6 L215.8,390.6 L216.2,390.6 L216.6,390.6 L217.0,390.7 L217.4,390.7 L217.8,390.7 L218.2,390.7 L218.6,390.7 L219.0,390.7 L219.4,390.7 L219.8,390.8 L220.2,390.8 L220.6,390.8 L221.0,390.8 L221.4,390.8 L221.8,390.8 L222.2,390.9 L222.6,390.9 L223.0,390.9 L223.4,390.9 L223.8,390.9 L224.2,390.9 L224.6,390.9 L225.0,391.0 L225.4,391.0 L225.8,391.0 L226.2,391.0 L226.6,391.0 L227.0,391.0 L227.4,391.0 L227.8,391.1 L228.2,391.1 L228.6,391.1 L229.0,391.1 L229.4,391.1 L229.8,391.1 L230.2,391.2 L230.6,391.2 L231.0,391.2 L231.4,391.2 L231.8,391.2 L232.2,391.2 L232.6,391.2 L233.0,391.3 L233.4,391.3 L233.8,391.3 L234.2,391.3 L234.6,391.3 L235.0,391.3 L235.4,391.3 L235.8,391.4 L236.2,391.4 L236.6,391.4 L237.0,391.4 L237.4,391.4 L237.8,391.4 L238.2,391.4 L238.6,391.4 L239.0,391.5 L239.4,391.5 L239.8,391.5 L240.2,391.5 L240.6,391.5 L241.0,391.5 L241.4,391.5 L241.8,391.5 L242.2,391.6 L242.6,391.6 L243.0,391.6 L243.4,391.6 L243.8,391.6 L244.2,391.6 L244.6,391.6 L245.0,391.6 L245.4,391.7 L245.8,391.7 L246.2,391.7 L246.6,391.7 L247.0,391.7 L247.4,391.7 L247.8,391.7 L248.2,391.7 L248.6,391.7 L249.0,391.8 L249.4,391.8 L249.8,391.8 L250.2,391.8 L250.6,391.8 L251.0,391.8 L251.4,391.8 L251.8,391.8 L252.2,391.8 L252.6,391.8 L253.0,391.8 L253.4,391.9 L253.8,391.9 L254.2,391.9 L254.6,391.9 L255.0,391.9 L255.4,391.9 L255.8,391.9 L256.2,391.9 L256.6,391.9 L257.0,391.9 L257.4,391.9 L257.8,391.9 L258.2,391.9 L258.6,391.9 L259.0,392.0 L259.4,392.0 L259.8,392.0 L260.2,392.0 L260.6,392.0 L261.0,392.0 L261.4,392.0 L261.8,392.0 L262.2,392.0 L262.6,392.0 L262.8,392.0" fill="none" stroke="#000" stroke-width="2.3" stroke-linejoin="round"/>
<path d="M37.8,346.2 L38.2,346.0 L38.6,345.4 L39.0,344.5 L39.4,343.4 L39.8,342.2 L40.2,340.9 L40.6,339.7 L41.0,338.2 L41.4,336.2 L41.8,333.7 L42.2,330.8 L42.6,327.3 L43.0,323.3 L43.4,318.7 L43.8,311.0 L44.2,300.8 L44.6,289.8 L45.0,280.0 L45.4,270.1 L45.8,259.9 L46.2,252.4 L46.6,250.7 L47.0,252.5 L47.4,255.4 L47.8,258.0 L48.2,259.9 L48.6,261.8 L49.0,263.6 L49.4,265.5 L49.8,267.4 L50.2,269.5 L50.6,272.0 L51.0,276.5 L51.4,283.2 L51.8,291.0 L52.2,299.8 L52.6,311.6 L53.0,319.4 L53.4,322.1 L53.8,324.4 L54.2,326.2 L54.6,327.5 L55.0,328.5 L55.4,329.2 L55.8,329.8 L56.2,330.4 L56.6,331.0 L57.0,331.5 L57.4,331.8 L57.8,331.7 L58.2,331.2 L58.6,330.5 L59.0,329.7 L59.4,328.6 L59.8,327.6 L60.2,326.4 L60.6,325.4 L61.0,324.4 L61.4,323.5 L61.8,322.8 L62.2,322.4 L62.6,322.2 L63.0,322.3 L63.4,322.6 L63.8,323.2 L64.2,323.9 L64.6,324.8 L65.0,326.3 L65.4,328.3 L65.8,330.6 L66.2,333.0 L66.6,335.5 L67.0,337.7 L67.4,339.7 L67.8,341.3 L68.2,342.8 L68.6,344.2 L69.0,345.6 L69.4,346.7 L69.8,347.6 L70.2,348.1 L70.6,348.2 L71.0,347.9 L71.4,347.1 L71.8,346.0 L72.2,344.5 L72.6,342.8 L73.0,340.9 L73.4,338.8 L73.8,336.6 L74.2,334.4 L74.6,332.1 L75.0,329.8 L75.4,327.5 L75.8,325.4 L76.2,323.2 L76.6,320.7 L77.0,318.1 L77.4,315.6 L77.8,313.3 L78.2,311.2 L78.6,309.6 L79.0,308.4 L79.4,307.4 L79.8,306.6 L80.2,306.0 L80.6,305.6 L81.0,305.5 L81.4,305.5 L81.8,305.8 L82.2,306.4 L82.6,307.3 L83.0,308.5 L83.4,309.9 L83.8,311.6 L84.2,313.4 L84.6,315.5 L85.0,317.6 L85.4,319.8 L85.8,322.1 L86.2,325.1 L86.6,328.8 L87.0,333.0 L87.4,337.5 L87.8,342.1 L88.2,346.4 L88.6,350.4 L89.0,353.7 L89.4,356.1 L89.8,357.5 L90.2,358.8 L90.6,359.9 L91.0,361.0 L91.4,361.9 L91.8,362.8 L92.2,363.5 L92.6,364.2 L93.0,364.7 L93.4,365.1 L93.8,365.4 L94.2,365.6 L94.6,365.7 L95.0,365.7 L95.4,365.7 L95.8,365.7 L96.2,365.7 L96.6,365.6 L97.0,365.5 L97.4,365.3 L97.8,365.2 L98.2,364.9 L98.6,364.6 L99.0,364.3 L99.4,363.9 L99.8,363.5 L100.2,363.0 L100.6,362.4 L101.0,361.7 L101.4,360.8 L101.8,359.8 L102.2,358.7 L102.6,357.5 L103.0,356.2 L103.4,354.9 L103.8,353.4 L104.2,351.9 L104.6,350.4 L105.0,348.9 L105.4,347.3 L105.8,345.8 L106.2,344.2 L106.6,342.5 L107.0,340.6 L107.4,338.6 L107.8,336.6 L108.2,334.5 L108.6,332.5 L109.0,330.5 L109.4,328.7 L109.8,327.0 L110.2,325.6 L110.6,324.4 L111.0,323.3 L111.4,322.4 L111.8,321.4 L112.2,320.3 L112.6,319.0 L113.0,317.5 L113.4,315.6 L113.8,313.3 L114.2,310.9 L114.6,308.3 L115.0,305.7 L115.4,303.2 L115.8,301.0 L116.2,299.0 L116.6,296.9 L117.0,294.8 L117.4,292.7 L117.8,290.7 L118.2,289.0 L118.6,287.7 L119.0,286.8 L119.4,286.4 L119.8,286.7 L120.2,287.3 L120.6,288.1 L121.0,289.0 L121.4,290.2 L121.8,291.5 L122.2,292.9 L122.6,294.4 L123.0,295.9 L123.4,297.5 L123.8,299.1 L124.2,300.7 L124.6,302.2 L125.0,303.6 L125.4,305.0 L125.8,306.6 L126.2,308.4 L126.6,310.2 L127.0,312.0 L127.4,313.7 L127.8,315.2 L128.2,316.3 L128.6,316.9 L129.0,317.1 L129.4,316.7 L129.8,315.9 L130.2,314.7 L130.6,313.3 L131.0,311.7 L131.4,310.1 L131.8,308.5 L132.2,307.0 L132.6,305.7 L133.0,304.4 L133.4,303.1 L133.8,301.7 L134.2,300.3 L134.6,298.8 L135.0,297.4 L135.4,296.0 L135.8,294.7 L136.2,293.4 L136.6,292.2 L137.0,291.1 L137.4,290.1 L137.8,289.3 L138.2,288.6 L138.6,288.3 L139.0,288.5 L139.4,289.2 L139.8,290.5 L140.2,292.1 L140.6,294.0 L141.0,296.2 L141.4,298.6 L141.8,301.1 L142.2,303.7 L142.6,306.3 L143.0,308.9 L143.4,312.1 L143.8,315.7 L144.2,319.2 L144.6,322.3 L145.0,325.4 L145.4,328.6 L145.8,331.7 L146.2,334.8 L146.6,337.8 L147.0,340.6 L147.4,343.2 L147.8,345.6 L148.2,347.7 L148.6,349.5 L149.0,351.1 L149.4,352.6 L149.8,354.1 L150.2,355.5 L150.6,356.8 L151.0,358.1 L151.4,359.4 L151.8,360.5 L152.2,361.6 L152.6,362.7 L153.0,363.6 L153.4,364.5 L153.8,365.3 L154.2,366.1 L154.6,366.7 L155.0,367.4 L155.4,368.0 L155.8,368.6 L156.2,369.2 L156.6,369.8 L157.0,370.3 L157.4,370.9 L157.8,371.4 L158.2,372.0 L158.6,372.4 L159.0,372.9 L159.4,373.3 L159.8,373.6 L160.2,373.9 L160.6,374.1 L161.0,374.3 L161.4,374.6 L161.8,374.8 L162.2,375.0 L162.6,375.3 L163.0,375.5 L163.4,375.8 L163.8,376.0 L164.2,376.2 L164.6,376.5 L165.0,376.7 L165.4,376.9 L165.8,377.2 L166.2,377.4 L166.6,377.6 L167.0,377.8 L167.4,378.0 L167.8,378.2 L168.2,378.4 L168.6,378.6 L169.0,378.8 L169.4,379.0 L169.8,379.1 L170.2,379.3 L170.6,379.4 L171.0,379.6 L171.4,379.7 L171.8,379.8 L172.2,379.9 L172.6,380.0 L173.0,380.1 L173.4,380.1 L173.8,380.2 L174.2,380.2 L174.6,380.2 L175.0,380.2 L175.4,380.2 L175.8,380.2 L176.2,380.2 L176.6,380.1 L177.0,380.0 L177.4,379.9 L177.8,379.8 L178.2,379.7 L178.6,379.5 L179.0,379.4 L179.4,379.2 L179.8,379.0 L180.2,378.8 L180.6,378.6 L181.0,378.4 L181.4,378.2 L181.8,378.0 L182.2,377.8 L182.6,377.5 L183.0,377.3 L183.4,377.0 L183.8,376.8 L184.2,376.5 L184.6,376.3 L185.0,376.0 L185.4,375.7 L185.8,375.4 L186.2,375.1 L186.6,374.7 L187.0,374.3 L187.4,374.0 L187.8,373.6 L188.2,373.1 L188.6,372.7 L189.0,372.3 L189.4,371.9 L189.8,371.4 L190.2,371.0 L190.6,370.6 L191.0,370.2 L191.4,369.8 L191.8,369.4 L192.2,369.0 L192.6,368.7 L193.0,368.4 L193.4,368.1 L193.8,367.8 L194.2,367.5 L194.6,367.3 L195.0,367.0 L195.4,366.7 L195.8,366.4 L196.2,366.1 L196.6,365.8 L197.0,365.5 L197.4,365.2 L197.8,365.0 L198.2,364.7 L198.6,364.4 L199.0,364.2 L199.4,364.0 L199.8,363.7 L200.2,363.5 L200.6,363.3 L201.0,363.1 L201.4,362.9 L201.8,362.8 L202.2,362.6 L202.6,362.5 L203.0,362.4 L203.4,362.3 L203.8,362.3 L204.2,362.2 L204.6,362.2 L205.0,362.2 L205.4,362.3 L205.8,362.3 L206.2,362.4 L206.6,362.5 L207.0,362.7 L207.4,362.8 L207.8,363.0 L208.2,363.2 L208.6,363.4 L209.0,363.7 L209.4,363.9 L209.8,364.2 L210.2,364.4 L210.6,364.7 L211.0,364.9 L211.4,365.2 L211.8,365.5 L212.2,365.7 L212.6,366.0 L213.0,366.2 L213.4,366.5 L213.8,366.7 L214.2,366.9 L214.6,367.1 L215.0,367.3 L215.4,367.4 L215.8,367.6 L216.2,367.8 L216.6,367.9 L217.0,368.1 L217.4,368.2 L217.8,368.4 L218.2,368.6 L218.6,368.8 L219.0,368.9 L219.4,369.1 L219.8,369.3 L220.2,369.4 L220.6,369.6 L221.0,369.7 L221.4,369.9 L221.8,370.0 L222.2,370.2 L222.6,370.3 L223.0,370.5 L223.4,370.6 L223.8,370.7 L224.2,370.8 L224.6,370.9 L225.0,371.0 L225.4,371.0 L225.8,371.1 L226.2,371.1 L226.6,371.2 L227.0,371.2 L227.4,371.2 L227.8,371.2 L228.2,371.2 L228.6,371.2 L229.0,371.1 L229.4,371.1 L229.8,371.0 L230.2,371.0 L230.6,371.0 L231.0,370.9 L231.4,370.8 L231.8,370.8 L232.2,370.7 L232.6,370.7 L233.0,370.6 L233.4,370.5 L233.8,370.5 L234.2,370.4 L234.6,370.3 L235.0,370.2 L235.4,370.2 L235.8,370.1 L236.2,370.0 L236.6,369.9 L237.0,369.9 L237.4,369.8 L237.8,369.7 L238.2,369.7 L238.6,369.6 L239.0,369.5 L239.4,369.5 L239.8,369.4 L240.2,369.4 L240.6,369.3 L241.0,369.3 L241.4,369.2 L241.8,369.2 L242.2,369.1 L242.6,369.1 L243.0,369.0 L243.4,369.0 L243.8,368.9 L244.2,368.9 L244.6,368.8 L245.0,368.8 L245.4,368.7 L245.8,368.7 L246.2,368.6 L246.6,368.6 L247.0,368.5 L247.4,368.5 L247.8,368.4 L248.2,368.4 L248.6,368.4 L249.0,368.3 L249.4,368.3 L249.8,368.3 L250.2,368.2 L250.6,368.2 L251.0,368.2 L251.4,368.2 L251.8,368.2 L252.2,368.2 L252.6,368.2 L253.0,368.2 L253.4,368.2 L253.8,368.3 L254.2,368.3 L254.6,368.3 L255.0,368.4 L255.4,368.4 L255.8,368.5 L256.2,368.6 L256.6,368.6 L257.0,368.7 L257.4,368.8 L257.8,368.8 L258.2,368.9 L258.6,369.0 L259.0,369.1 L259.4,369.2 L259.8,369.3 L260.2,369.3 L260.6,369.4 L261.0,369.5 L261.4,369.6 L261.8,369.7 L262.2,369.8 L262.6,369.9 L262.8,369.9" fill="none" stroke="#ff0000" stroke-width="2.3" stroke-linejoin="round"/>
<path d="M37.8,345.0 L38.2,344.4 L38.6,343.7 L39.0,342.9 L39.4,342.2 L39.8,341.4 L40.2,340.6 L40.6,339.8 L41.0,339.1 L41.4,338.4 L41.8,337.6 L42.2,336.7 L42.6,335.6 L43.0,334.2 L43.4,332.4 L43.8,327.0 L44.2,318.6 L44.6,309.6 L45.0,302.0 L45.4,295.4 L45.8,288.5 L46.2,282.3 L46.6,277.7 L47.0,275.9 L47.4,277.1 L47.8,279.7 L48.2,283.1 L48.6,286.7 L49.0,290.0 L49.4,293.2 L49.8,296.6 L50.2,299.9 L50.6,302.8 L51.0,305.0 L51.4,306.8 L51.8,308.5 L52.2,310.0 L52.6,311.5 L53.0,312.7 L53.4,313.6 L53.8,314.3 L54.2,314.6 L54.6,314.6 L55.0,314.3 L55.4,314.0 L55.8,313.6 L56.2,313.2 L56.6,312.7 L57.0,312.3 L57.4,311.8 L57.8,311.4 L58.2,311.0 L58.6,310.6 L59.0,310.2 L59.4,309.8 L59.8,309.4 L60.2,309.1 L60.6,309.0 L61.0,309.0 L61.4,309.4 L61.8,310.3 L62.2,311.5 L62.6,312.9 L63.0,314.4 L63.4,316.0 L63.8,317.4 L64.2,318.6 L64.6,319.8 L65.0,321.1 L65.4,322.4 L65.8,323.7 L66.2,325.0 L66.6,326.3 L67.0,327.6 L67.4,328.9 L67.8,330.1 L68.2,331.2 L68.6,332.3 L69.0,333.3 L69.4,334.2 L69.8,335.0 L70.2,335.7 L70.6,336.3 L71.0,336.8 L71.4,337.2 L71.8,337.6 L72.2,337.9 L72.6,338.2 L73.0,338.4 L73.4,338.7 L73.8,339.0 L74.2,339.3 L74.6,339.6 L75.0,340.0 L75.4,340.5 L75.8,341.0 L76.2,341.6 L76.6,342.3 L77.0,343.0 L77.4,343.7 L77.8,344.5 L78.2,345.3 L78.6,346.1 L79.0,347.0 L79.4,347.8 L79.8,348.6 L80.2,349.3 L80.6,350.0 L81.0,350.7 L81.4,351.4 L81.8,351.9 L82.2,352.4 L82.6,352.8 L83.0,353.1 L83.4,353.5 L83.8,353.7 L84.2,354.0 L84.6,354.2 L85.0,354.5 L85.4,354.7 L85.8,354.8 L86.2,355.0 L86.6,355.2 L87.0,355.3 L87.4,355.4 L87.8,355.5 L88.2,355.6 L88.6,355.7 L89.0,355.8 L89.4,355.9 L89.8,355.9 L90.2,355.9 L90.6,355.8 L91.0,355.7 L91.4,355.5 L91.8,355.3 L92.2,355.0 L92.6,354.7 L93.0,354.4 L93.4,354.0 L93.8,353.5 L94.2,352.6 L94.6,351.3 L95.0,349.7 L95.4,347.9 L95.8,346.0 L96.2,344.0 L96.6,342.0 L97.0,340.0 L97.4,338.0 L97.8,336.0 L98.2,333.8 L98.6,331.6 L99.0,329.3 L99.4,327.0 L99.8,324.6 L100.2,322.2 L100.6,319.9 L101.0,317.5 L101.4,315.0 L101.8,312.3 L102.2,309.5 L102.6,306.7 L103.0,304.1 L103.4,301.6 L103.8,299.4 L104.2,297.7 L104.6,296.3 L105.0,295.0 L105.4,293.8 L105.8,292.9 L106.2,292.0 L106.6,291.4 L107.0,291.0 L107.4,290.8 L107.8,290.6 L108.2,290.6 L108.6,290.6 L109.0,290.6 L109.4,290.6 L109.8,290.6 L110.2,290.4 L110.6,290.2 L111.0,289.8 L111.4,289.2 L111.8,288.6 L112.2,287.8 L112.6,287.0 L113.0,286.1 L113.4,285.1 L113.8,284.2 L114.2,283.2 L114.6,282.3 L115.0,281.4 L115.4,280.5 L115.8,279.8 L116.2,279.1 L116.6,278.6 L117.0,278.2 L117.4,277.9 L117.8,277.8 L118.2,277.9 L118.6,278.1 L119.0,278.4 L119.4,278.9 L119.8,279.5 L120.2,280.1 L120.6,280.9 L121.0,281.7 L121.4,282.6 L121.8,283.5 L122.2,284.5 L122.6,285.5 L123.0,286.4 L123.4,287.4 L123.8,288.4 L124.2,289.4 L124.6,290.4 L125.0,291.6 L125.4,292.8 L125.8,294.0 L126.2,295.3 L126.6,296.6 L127.0,298.0 L127.4,299.3 L127.8,300.7 L128.2,302.1 L128.6,303.4 L129.0,304.7 L129.4,305.9 L129.8,307.1 L130.2,308.2 L130.6,309.2 L131.0,310.2 L131.4,311.0 L131.8,311.9 L132.2,312.7 L132.6,313.4 L133.0,314.2 L133.4,314.9 L133.8,315.7 L134.2,316.6 L134.6,317.4 L135.0,318.4 L135.4,319.4 L135.8,320.6 L136.2,321.9 L136.6,323.2 L137.0,324.7 L137.4,326.2 L137.8,327.8 L138.2,329.4 L138.6,331.1 L139.0,332.8 L139.4,334.5 L139.8,336.1 L140.2,337.8 L140.6,339.3 L141.0,340.9 L141.4,342.3 L141.8,343.7 L142.2,344.9 L142.6,346.0 L143.0,347.0 L143.4,348.0 L143.8,349.0 L144.2,349.9 L144.6,350.7 L145.0,351.6 L145.4,352.4 L145.8,353.1 L146.2,353.9 L146.6,354.6 L147.0,355.3 L147.4,355.9 L147.8,356.5 L148.2,357.1 L148.6,357.8 L149.0,358.5 L149.4,359.1 L149.8,359.7 L150.2,360.1 L150.6,360.4 L151.0,360.5 L151.4,360.5 L151.8,360.4 L152.2,360.4 L152.6,360.3 L153.0,360.2 L153.4,360.1 L153.8,360.0 L154.2,359.9 L154.6,359.9 L155.0,359.8 L155.4,359.8 L155.8,359.8 L156.2,359.8 L156.6,359.8 L157.0,359.8 L157.4,359.8 L157.8,359.8 L158.2,359.8 L158.6,359.9 L159.0,359.9 L159.4,360.0 L159.8,360.1 L160.2,360.2 L160.6,360.4 L161.0,360.6 L161.4,360.9 L161.8,361.1 L162.2,361.4 L162.6,361.7 L163.0,362.0 L163.4,362.3 L163.8,362.6 L164.2,362.9 L164.6,363.2 L165.0,363.5 L165.4,363.8 L165.8,364.2 L166.2,364.5 L166.6,364.8 L167.0,365.2 L167.4,365.5 L167.8,365.8 L168.2,366.2 L168.6,366.5 L169.0,366.9 L169.4,367.2 L169.8,367.6 L170.2,367.9 L170.6,368.3 L171.0,368.6 L171.4,368.9 L171.8,369.2 L172.2,369.4 L172.6,369.6 L173.0,369.9 L173.4,370.1 L173.8,370.3 L174.2,370.4 L174.6,370.6 L175.0,370.8 L175.4,370.9 L175.8,371.1 L176.2,371.2 L176.6,371.3 L177.0,371.4 L177.4,371.4 L177.8,371.5 L178.2,371.5 L178.6,371.5 L179.0,371.5 L179.4,371.5 L179.8,371.4 L180.2,371.4 L180.6,371.2 L181.0,371.1 L181.4,370.9 L181.8,370.7 L182.2,370.5 L182.6,370.3 L183.0,370.0 L183.4,369.7 L183.8,369.5 L184.2,369.2 L184.6,368.8 L185.0,368.5 L185.4,368.2 L185.8,367.9 L186.2,367.6 L186.6,367.2 L187.0,366.9 L187.4,366.6 L187.8,366.3 L188.2,366.0 L188.6,365.8 L189.0,365.5 L189.4,365.3 L189.8,365.1 L190.2,364.9 L190.6,364.7 L191.0,364.5 L191.4,364.4 L191.8,364.2 L192.2,364.0 L192.6,363.8 L193.0,363.7 L193.4,363.5 L193.8,363.3 L194.2,363.2 L194.6,363.1 L195.0,362.9 L195.4,362.8 L195.8,362.7 L196.2,362.7 L196.6,362.6 L197.0,362.5 L197.4,362.5 L197.8,362.5 L198.2,362.5 L198.6,362.6 L199.0,362.6 L199.4,362.8 L199.8,362.9 L200.2,363.1 L200.6,363.4 L201.0,363.6 L201.4,363.9 L201.8,364.2 L202.2,364.5 L202.6,364.8 L203.0,365.0 L203.4,365.3 L203.8,365.5 L204.2,365.7 L204.6,365.9 L205.0,366.0 L205.4,366.1 L205.8,366.2 L206.2,366.2 L206.6,366.3 L207.0,366.4 L207.4,366.5 L207.8,366.5 L208.2,366.6 L208.6,366.7 L209.0,366.7 L209.4,366.8 L209.8,366.9 L210.2,366.9 L210.6,367.0 L211.0,367.0 L211.4,367.1 L211.8,367.1 L212.2,367.2 L212.6,367.2 L213.0,367.2 L213.4,367.3 L213.8,367.3 L214.2,367.3 L214.6,367.4 L215.0,367.4 L215.4,367.4 L215.8,367.4 L216.2,367.4 L216.6,367.4 L217.0,367.4 L217.4,367.4 L217.8,367.4 L218.2,367.4 L218.6,367.4 L219.0,367.4 L219.4,367.4 L219.8,367.4 L220.2,367.4 L220.6,367.3 L221.0,367.3 L221.4,367.3 L221.8,367.3 L222.2,367.3 L222.6,367.3 L223.0,367.3 L223.4,367.2 L223.8,367.2 L224.2,367.2 L224.6,367.2 L225.0,367.2 L225.4,367.2 L225.8,367.3 L226.2,367.3 L226.6,367.3 L227.0,367.3 L227.4,367.3 L227.8,367.4 L228.2,367.4 L228.6,367.5 L229.0,367.5 L229.4,367.6 L229.8,367.7 L230.2,367.7 L230.6,367.8 L231.0,367.9 L231.4,368.0 L231.8,368.1 L232.2,368.2 L232.6,368.3 L233.0,368.4 L233.4,368.5 L233.8,368.6 L234.2,368.7 L234.6,368.8 L235.0,369.0 L235.4,369.1 L235.8,369.2 L236.2,369.3 L236.6,369.4 L237.0,369.5 L237.4,369.7 L237.8,369.8 L238.2,369.9 L238.6,370.0 L239.0,370.1 L239.4,370.2 L239.8,370.3 L240.2,370.4 L240.6,370.5 L241.0,370.6 L241.4,370.7 L241.8,370.7 L242.2,370.8 L242.6,370.9 L243.0,371.0 L243.4,371.1 L243.8,371.2 L244.2,371.3 L244.6,371.3 L245.0,371.4 L245.4,371.5 L245.8,371.6 L246.2,371.7 L246.6,371.8 L247.0,371.9 L247.4,371.9 L247.8,372.0 L248.2,372.1 L248.6,372.2 L249.0,372.3 L249.4,372.4 L249.8,372.5 L250.2,372.5 L250.6,372.6 L251.0,372.7 L251.4,372.8 L251.8,372.9 L252.2,373.0 L252.6,373.0 L253.0,373.1 L253.4,373.2 L253.8,373.3 L254.2,373.4 L254.6,373.4 L255.0,373.5 L255.4,373.6 L255.8,373.7 L256.2,373.8 L256.6,373.8 L257.0,373.9 L257.4,374.0 L257.8,374.1 L258.2,374.1 L258.6,374.2 L259.0,374.3 L259.4,374.4 L259.8,374.4 L260.2,374.5 L260.6,374.6 L261.0,374.7 L261.4,374.7 L261.8,374.8 L262.2,374.9 L262.6,375.0 L262.8,375.0" fill="none" stroke="#10ec10" stroke-width="2.3" stroke-linejoin="round"/>
<path d="M37.8,344.6 L38.2,344.0 L38.6,343.3 L39.0,342.7 L39.4,342.0 L39.8,341.2 L40.2,340.5 L40.6,339.8 L41.0,339.2 L41.4,338.6 L41.8,337.9 L42.2,337.1 L42.6,336.2 L43.0,335.1 L43.4,333.4 L43.8,327.7 L44.2,318.5 L44.6,308.4 L45.0,300.0 L45.4,292.9 L45.8,285.5 L46.2,279.0 L46.6,274.2 L47.0,272.4 L47.4,273.1 L47.8,275.2 L48.2,278.1 L48.6,281.5 L49.0,285.0 L49.4,288.7 L49.8,292.7 L50.2,296.7 L50.6,300.0 L51.0,302.9 L51.4,305.5 L51.8,307.7 L52.2,308.9 L52.6,309.6 L53.0,310.2 L53.4,310.8 L53.8,311.2 L54.2,311.4 L54.6,311.3 L55.0,311.0 L55.4,310.6 L55.8,310.2 L56.2,309.8 L56.6,309.3 L57.0,308.8 L57.4,308.3 L57.8,307.8 L58.2,307.3 L58.6,306.9 L59.0,306.6 L59.4,306.3 L59.8,306.1 L60.2,306.0 L60.6,306.0 L61.0,306.1 L61.4,306.3 L61.8,306.6 L62.2,306.9 L62.6,307.2 L63.0,307.6 L63.4,308.3 L63.8,309.1 L64.2,310.1 L64.6,311.2 L65.0,312.5 L65.4,313.9 L65.8,315.4 L66.2,317.0 L66.6,318.6 L67.0,320.2 L67.4,321.9 L67.8,323.6 L68.2,326.0 L68.6,328.8 L69.0,331.7 L69.4,334.1 L69.8,335.9 L70.2,336.9 L70.6,337.8 L71.0,338.6 L71.4,339.4 L71.8,340.0 L72.2,340.6 L72.6,341.1 L73.0,341.5 L73.4,341.8 L73.8,342.1 L74.2,342.2 L74.6,342.2 L75.0,342.2 L75.4,342.0 L75.8,341.9 L76.2,341.8 L76.6,341.7 L77.0,341.7 L77.4,341.8 L77.8,342.1 L78.2,342.7 L78.6,343.6 L79.0,344.7 L79.4,346.0 L79.8,347.4 L80.2,348.7 L80.6,350.0 L81.0,351.0 L81.4,351.7 L81.8,352.1 L82.2,352.2 L82.6,352.3 L83.0,352.4 L83.4,352.5 L83.8,352.5 L84.2,352.5 L84.6,352.6 L85.0,352.7 L85.4,352.8 L85.8,352.9 L86.2,353.1 L86.6,353.3 L87.0,353.5 L87.4,353.7 L87.8,353.9 L88.2,354.1 L88.6,354.4 L89.0,354.6 L89.4,354.8 L89.8,355.0 L90.2,355.3 L90.6,355.6 L91.0,355.9 L91.4,356.3 L91.8,356.6 L92.2,356.9 L92.6,357.2 L93.0,357.5 L93.4,357.8 L93.8,357.9 L94.2,357.8 L94.6,357.5 L95.0,357.0 L95.4,356.4 L95.8,355.6 L96.2,354.7 L96.6,353.8 L97.0,352.8 L97.4,351.7 L97.8,350.6 L98.2,349.5 L98.6,348.4 L99.0,346.9 L99.4,345.0 L99.8,342.9 L100.2,340.4 L100.6,337.9 L101.0,335.2 L101.4,332.3 L101.8,329.0 L102.2,325.5 L102.6,321.9 L103.0,318.4 L103.4,314.8 L103.8,311.1 L104.2,307.1 L104.6,303.2 L105.0,299.3 L105.4,295.8 L105.8,292.6 L106.2,290.0 L106.6,287.9 L107.0,286.0 L107.4,284.2 L107.8,282.5 L108.2,280.8 L108.6,279.4 L109.0,278.0 L109.4,276.8 L109.8,275.7 L110.2,274.9 L110.6,274.2 L111.0,273.7 L111.4,273.5 L111.8,273.5 L112.2,273.7 L112.6,274.1 L113.0,274.6 L113.4,275.3 L113.8,276.0 L114.2,276.9 L114.6,277.8 L115.0,278.7 L115.4,279.7 L115.8,280.6 L116.2,281.5 L116.6,282.3 L117.0,283.0 L117.4,283.6 L117.8,284.1 L118.2,284.4 L118.6,284.5 L119.0,284.3 L119.4,283.8 L119.8,283.1 L120.2,282.1 L120.6,281.0 L121.0,279.7 L121.4,278.3 L121.8,276.9 L122.2,275.4 L122.6,274.0 L123.0,272.6 L123.4,271.3 L123.8,270.2 L124.2,269.2 L124.6,268.5 L125.0,268.1 L125.4,268.1 L125.8,269.1 L126.2,271.0 L126.6,273.5 L127.0,276.4 L127.4,279.3 L127.8,282.5 L128.2,286.6 L128.6,291.0 L129.0,295.3 L129.4,298.8 L129.8,301.0 L130.2,303.0 L130.6,304.8 L131.0,306.5 L131.4,308.1 L131.8,309.5 L132.2,310.8 L132.6,312.0 L133.0,313.2 L133.4,314.2 L133.8,315.1 L134.2,315.9 L134.6,316.6 L135.0,317.2 L135.4,317.8 L135.8,318.5 L136.2,319.3 L136.6,320.3 L137.0,321.4 L137.4,322.6 L137.8,323.8 L138.2,325.1 L138.6,326.5 L139.0,327.9 L139.4,329.3 L139.8,330.8 L140.2,332.2 L140.6,333.7 L141.0,335.2 L141.4,336.6 L141.8,338.0 L142.2,339.4 L142.6,340.8 L143.0,342.1 L143.4,343.4 L143.8,344.6 L144.2,345.7 L144.6,346.8 L145.0,347.9 L145.4,348.9 L145.8,349.9 L146.2,350.9 L146.6,351.9 L147.0,352.9 L147.4,353.8 L147.8,354.7 L148.2,355.6 L148.6,356.5 L149.0,357.4 L149.4,358.2 L149.8,359.0 L150.2,359.8 L150.6,360.5 L151.0,361.3 L151.4,362.0 L151.8,362.7 L152.2,363.4 L152.6,364.1 L153.0,364.8 L153.4,365.5 L153.8,366.2 L154.2,366.9 L154.6,367.6 L155.0,368.3 L155.4,369.0 L155.8,369.6 L156.2,370.3 L156.6,370.9 L157.0,371.4 L157.4,372.0 L157.8,372.5 L158.2,373.0 L158.6,373.5 L159.0,373.9 L159.4,374.2 L159.8,374.6 L160.2,374.8 L160.6,375.1 L161.0,375.4 L161.4,375.7 L161.8,375.9 L162.2,376.2 L162.6,376.5 L163.0,376.7 L163.4,377.0 L163.8,377.2 L164.2,377.4 L164.6,377.7 L165.0,377.9 L165.4,378.1 L165.8,378.3 L166.2,378.5 L166.6,378.6 L167.0,378.8 L167.4,378.9 L167.8,379.1 L168.2,379.2 L168.6,379.3 L169.0,379.4 L169.4,379.4 L169.8,379.5 L170.2,379.5 L170.6,379.5 L171.0,379.6 L171.4,379.6 L171.8,379.6 L172.2,379.6 L172.6,379.7 L173.0,379.7 L173.4,379.7 L173.8,379.7 L174.2,379.7 L174.6,379.7 L175.0,379.7 L175.4,379.6 L175.8,379.6 L176.2,379.6 L176.6,379.5 L177.0,379.5 L177.4,379.4 L177.8,379.4 L178.2,379.3 L178.6,379.3 L179.0,379.2 L179.4,379.1 L179.8,379.1 L180.2,379.0 L180.6,379.0 L181.0,378.9 L181.4,378.8 L181.8,378.8 L182.2,378.7 L182.6,378.6 L183.0,378.6 L183.4,378.5 L183.8,378.4 L184.2,378.3 L184.6,378.3 L185.0,378.2 L185.4,378.1 L185.8,378.0 L186.2,378.0 L186.6,377.9 L187.0,377.8 L187.4,377.7 L187.8,377.6 L188.2,377.5 L188.6,377.4 L189.0,377.3 L189.4,377.2 L189.8,377.1 L190.2,377.0 L190.6,376.8 L191.0,376.7 L191.4,376.6 L191.8,376.5 L192.2,376.4 L192.6,376.3 L193.0,376.2 L193.4,376.1 L193.8,376.0 L194.2,375.9 L194.6,375.8 L195.0,375.7 L195.4,375.6 L195.8,375.5 L196.2,375.5 L196.6,375.4 L197.0,375.3 L197.4,375.3 L197.8,375.2 L198.2,375.1 L198.6,375.1 L199.0,375.0 L199.4,375.0 L199.8,374.9 L200.2,374.8 L200.6,374.8 L201.0,374.7 L201.4,374.7 L201.8,374.6 L202.2,374.6 L202.6,374.5 L203.0,374.4 L203.4,374.4 L203.8,374.3 L204.2,374.3 L204.6,374.2 L205.0,374.2 L205.4,374.1 L205.8,374.0 L206.2,374.0 L206.6,373.9 L207.0,373.9 L207.4,373.8 L207.8,373.7 L208.2,373.7 L208.6,373.6 L209.0,373.6 L209.4,373.5 L209.8,373.4 L210.2,373.4 L210.6,373.3 L211.0,373.3 L211.4,373.2 L211.8,373.1 L212.2,373.1 L212.6,373.0 L213.0,373.0 L213.4,372.9 L213.8,372.8 L214.2,372.8 L214.6,372.7 L215.0,372.6 L215.4,372.5 L215.8,372.4 L216.2,372.4 L216.6,372.3 L217.0,372.2 L217.4,372.1 L217.8,372.0 L218.2,372.0 L218.6,371.9 L219.0,371.8 L219.4,371.7 L219.8,371.6 L220.2,371.5 L220.6,371.5 L221.0,371.4 L221.4,371.3 L221.8,371.2 L222.2,371.1 L222.6,371.1 L223.0,371.0 L223.4,370.9 L223.8,370.9 L224.2,370.8 L224.6,370.7 L225.0,370.7 L225.4,370.6 L225.8,370.6 L226.2,370.5 L226.6,370.5 L227.0,370.4 L227.4,370.4 L227.8,370.4 L228.2,370.3 L228.6,370.3 L229.0,370.3 L229.4,370.3 L229.8,370.3 L230.2,370.3 L230.6,370.3 L231.0,370.4 L231.4,370.4 L231.8,370.5 L232.2,370.6 L232.6,370.7 L233.0,370.8 L233.4,370.9 L233.8,371.0 L234.2,371.1 L234.6,371.2 L235.0,371.3 L235.4,371.5 L235.8,371.6 L236.2,371.7 L236.6,371.9 L237.0,372.0 L237.4,372.2 L237.8,372.3 L238.2,372.5 L238.6,372.6 L239.0,372.8 L239.4,372.9 L239.8,373.1 L240.2,373.2 L240.6,373.3 L241.0,373.5 L241.4,373.6 L241.8,373.7 L242.2,373.9 L242.6,374.0 L243.0,374.1 L243.4,374.2 L243.8,374.3 L244.2,374.3 L244.6,374.4 L245.0,374.5 L245.4,374.6 L245.8,374.6 L246.2,374.7 L246.6,374.8 L247.0,374.8 L247.4,374.9 L247.8,375.0 L248.2,375.0 L248.6,375.1 L249.0,375.2 L249.4,375.3 L249.8,375.3 L250.2,375.4 L250.6,375.5 L251.0,375.5 L251.4,375.6 L251.8,375.6 L252.2,375.7 L252.6,375.8 L253.0,375.8 L253.4,375.9 L253.8,376.0 L254.2,376.0 L254.6,376.1 L255.0,376.1 L255.4,376.2 L255.8,376.2 L256.2,376.3 L256.6,376.3 L257.0,376.4 L257.4,376.4 L257.8,376.5 L258.2,376.5 L258.6,376.6 L259.0,376.6 L259.4,376.6 L259.8,376.7 L260.2,376.7 L260.6,376.8 L261.0,376.8 L261.4,376.8 L261.8,376.8 L262.2,376.9 L262.6,376.9 L262.8,376.9" fill="none" stroke="#0000ff" stroke-width="2.3" stroke-linejoin="round"/>
</g>
<rect x="37.8" y="229.2" width="225.0" height="164.40000000000003" fill="none" stroke="#000" stroke-width="2.2"/>
<line x1="37.8" y1="393.6" x2="37.8" y2="397.1" stroke="#000" stroke-width="1.6"/>
<line x1="56.5" y1="393.6" x2="56.5" y2="395.6" stroke="#000" stroke-width="1.6"/>
<line x1="75.3" y1="393.6" x2="75.3" y2="397.1" stroke="#000" stroke-width="1.6"/>
<line x1="94.0" y1="393.6" x2="94.0" y2="395.6" stroke="#000" stroke-width="1.6"/>
<line x1="112.8" y1="393.6" x2="112.8" y2="397.1" stroke="#000" stroke-width="1.6"/>
<line x1="131.6" y1="393.6" x2="131.6" y2="395.6" stroke="#000" stroke-width="1.6"/>
<line x1="150.3" y1="393.6" x2="150.3" y2="397.1" stroke="#000" stroke-width="1.6"/>
<line x1="169.1" y1="393.6" x2="169.1" y2="395.6" stroke="#000" stroke-width="1.6"/>
<line x1="187.8" y1="393.6" x2="187.8" y2="397.1" stroke="#000" stroke-width="1.6"/>
<line x1="206.6" y1="393.6" x2="206.6" y2="395.6" stroke="#000" stroke-width="1.6"/>
<line x1="225.3" y1="393.6" x2="225.3" y2="397.1" stroke="#000" stroke-width="1.6"/>
<line x1="244.1" y1="393.6" x2="244.1" y2="395.6" stroke="#000" stroke-width="1.6"/>
<line x1="262.8" y1="393.6" x2="262.8" y2="397.1" stroke="#000" stroke-width="1.6"/>
<text x="37.8" y="410.6" font-size="14.5" font-weight="bold" text-anchor="middle">200</text>
<text x="75.3" y="410.6" font-size="14.5" font-weight="bold" text-anchor="middle">300</text>
<text x="112.8" y="410.6" font-size="14.5" font-weight="bold" text-anchor="middle">400</text>
<text x="150.3" y="410.6" font-size="14.5" font-weight="bold" text-anchor="middle">500</text>
<text x="187.8" y="410.6" font-size="14.5" font-weight="bold" text-anchor="middle">600</text>
<text x="225.3" y="410.6" font-size="14.5" font-weight="bold" text-anchor="middle">700</text>
<text x="262.8" y="410.6" font-size="14.5" font-weight="bold" text-anchor="middle">800</text>
<text x="97" y="425" font-size="14.6" font-weight="bold">Wavelength (nm)</text>
<text transform="translate(30.2,369.4) rotate(-90)" font-size="14.8" font-weight="bold">Absorbance (a. u.)</text>
<text transform="translate(6.6,238.6) scale(1.08,1)" font-size="18" font-weight="bold">(c)</text>
<line x1="185.9" y1="264.3" x2="208.8" y2="264.3" stroke="#000" stroke-width="2.6"/>
<text x="210.4" y="267.90000000000003" font-size="9.9" font-weight="bold">CTF</text>
<line x1="185.9" y1="276.6" x2="208.8" y2="276.6" stroke="#ff0000" stroke-width="2.6"/>
<text x="210.4" y="280.20000000000005" font-size="9.9" font-weight="bold">CTF-Fe</text>
<line x1="185.9" y1="288.90000000000003" x2="208.8" y2="288.90000000000003" stroke="#10ec10" stroke-width="2.6"/>
<text x="210.4" y="292.50000000000006" font-size="9.9" font-weight="bold">CTF-Co</text>
<line x1="185.9" y1="301.20000000000005" x2="208.8" y2="301.20000000000005" stroke="#0000ff" stroke-width="2.6"/>
<text x="210.4" y="304.80000000000007" font-size="9.9" font-weight="bold">CTF-Ni</text>
<rect x="319.30" y="269.65" width="11.10" height="131.25" fill="#000000" stroke="#111" stroke-width="0.5"/>
<rect x="330.40" y="344.16" width="11.10" height="56.74" fill="#ff0000" stroke="#111" stroke-width="0.5"/>
<rect x="341.50" y="328.10" width="11.10" height="72.80" fill="#00f800" stroke="#111" stroke-width="0.5"/>
<rect x="352.60" y="311.35" width="11.10" height="89.55" fill="#0000ff" stroke="#111" stroke-width="0.5"/>
<rect x="386.60" y="271.02" width="11.10" height="129.88" fill="#ff0000" stroke="#111" stroke-width="0.5"/>
<rect x="397.70" y="293.23" width="11.10" height="107.67" fill="#00f800" stroke="#111" stroke-width="0.5"/>
<rect x="408.80" y="271.36" width="11.10" height="129.54" fill="#0000ff" stroke="#111" stroke-width="0.5"/>
<rect x="487.80" y="269.65" width="11.10" height="131.25" fill="#000000" stroke="#111" stroke-width="0.5"/>
<rect x="498.90" y="259.74" width="11.10" height="141.16" fill="#ff0000" stroke="#111" stroke-width="0.5"/>
<rect x="510.00" y="271.02" width="11.10" height="129.88" fill="#00f800" stroke="#111" stroke-width="0.5"/>
<rect x="521.10" y="243.67" width="11.10" height="157.23" fill="#0000ff" stroke="#111" stroke-width="0.5"/>
<rect x="312.8" y="230" width="224.59999999999997" height="170.89999999999998" fill="none" stroke="#000" stroke-width="2.2"/>
<line x1="312.8" y1="400.9" x2="309.3" y2="400.9" stroke="#000" stroke-width="1.6"/>
<line x1="312.8" y1="383.8" x2="310.8" y2="383.8" stroke="#000" stroke-width="1.6"/>
<line x1="312.8" y1="366.7" x2="309.3" y2="366.7" stroke="#000" stroke-width="1.6"/>
<line x1="312.8" y1="349.6" x2="310.8" y2="349.6" stroke="#000" stroke-width="1.6"/>
<line x1="312.8" y1="332.5" x2="309.3" y2="332.5" stroke="#000" stroke-width="1.6"/>
<line x1="312.8" y1="315.4" x2="310.8" y2="315.4" stroke="#000" stroke-width="1.6"/>
<line x1="312.8" y1="298.4" x2="309.3" y2="298.4" stroke="#000" stroke-width="1.6"/>
<line x1="312.8" y1="281.3" x2="310.8" y2="281.3" stroke="#000" stroke-width="1.6"/>
<line x1="312.8" y1="264.2" x2="309.3" y2="264.2" stroke="#000" stroke-width="1.6"/>
<line x1="312.8" y1="247.1" x2="310.8" y2="247.1" stroke="#000" stroke-width="1.6"/>
<line x1="312.8" y1="230.0" x2="309.3" y2="230.0" stroke="#000" stroke-width="1.6"/>
<text x="308" y="405.9" font-size="14" font-weight="bold" text-anchor="end">0</text>
<text x="308" y="371.7" font-size="14" font-weight="bold" text-anchor="end">5</text>
<text x="308" y="337.5" font-size="14" font-weight="bold" text-anchor="end">10</text>
<text x="308" y="303.4" font-size="14" font-weight="bold" text-anchor="end">15</text>
<text x="308" y="269.2" font-size="14" font-weight="bold" text-anchor="end">20</text>
<text x="308" y="235.0" font-size="14" font-weight="bold" text-anchor="end">25</text>
<text transform="translate(288.8,388) rotate(-90)" font-size="14.8" font-weight="bold">Dipol moments (e·Å)</text>
<text transform="translate(269.3,238.6) scale(1.08,1)" font-size="17.8" font-weight="bold">(d)</text>
<text x="338" y="419.8" font-size="9.5" font-weight="bold" text-anchor="middle">X</text>
<text x="395" y="419.8" font-size="9.5" font-weight="bold" text-anchor="middle">Y</text>
<text x="456.5" y="419.8" font-size="9.5" font-weight="bold" text-anchor="middle">Z</text>
<text x="507" y="419.8" font-size="9.5" font-weight="bold" text-anchor="middle">Total</text>
<line x1="381.5" y1="381.5" x2="381.5" y2="394" stroke="#000" stroke-width="1.3"/>
<path d="M379.2,392.2 L383.8,392.2 L381.5,399.6 z" fill="#000"/>
<line x1="438.8" y1="381.5" x2="438.8" y2="394" stroke="#000" stroke-width="1.3"/>
<path d="M436.5,392.2 L441.1,392.2 L438.8,399.6 z" fill="#000"/>
<line x1="448.6" y1="381.5" x2="448.6" y2="394" stroke="#000" stroke-width="1.3"/>
<path d="M446.3,392.2 L450.90000000000003,392.2 L448.6,399.6 z" fill="#000"/>
<line x1="459.5" y1="381.5" x2="459.5" y2="394" stroke="#000" stroke-width="1.3"/>
<path d="M457.2,392.2 L461.8,392.2 L459.5,399.6 z" fill="#000"/>
<line x1="471.2" y1="381.5" x2="471.2" y2="394" stroke="#000" stroke-width="1.3"/>
<path d="M468.9,392.2 L473.5,392.2 L471.2,399.6 z" fill="#000"/>
<rect x="425.3" y="235.6" width="21.6" height="10.5" fill="#000000" stroke="#222" stroke-width="0.5"/>
<text x="449.2" y="244.4" font-size="9.9" font-weight="bold">CTF</text>
<rect x="425.3" y="247.9" width="21.6" height="10.5" fill="#ff0000" stroke="#222" stroke-width="0.5"/>
<text x="449.2" y="256.7" font-size="9.9" font-weight="bold">CTF-Fe</text>
<rect x="425.3" y="260.2" width="21.6" height="10.5" fill="#00f800" stroke="#222" stroke-width="0.5"/>
<text x="449.2" y="269.0" font-size="9.9" font-weight="bold">CTF-Co</text>
<rect x="425.3" y="272.5" width="21.6" height="10.5" fill="#0000ff" stroke="#222" stroke-width="0.5"/>
<text x="449.2" y="281.3" font-size="9.9" font-weight="bold">CTF-Ni</text>
</svg></body></html>
